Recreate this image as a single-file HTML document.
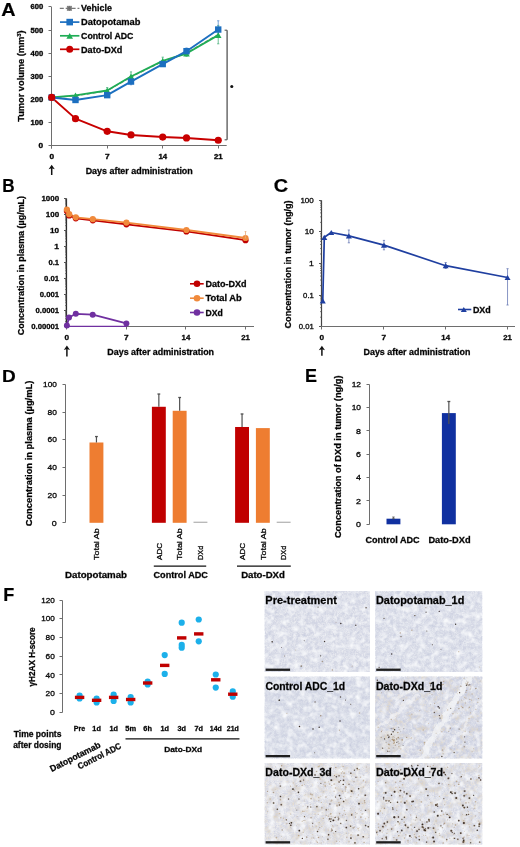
<!DOCTYPE html>
<html><head><meta charset="utf-8"><style>
html,body{margin:0;padding:0;background:#fff;}
body{width:520px;height:847px;overflow:hidden;}
svg{display:block;filter:blur(0.3px);}
svg text{font-family:'Liberation Sans', Arial, sans-serif;}
</style></head><body>
<svg width="520" height="847" viewBox="0 0 520 847" font-weight="bold">
<defs>
<filter id="wobble" x="-10%" y="-10%" width="120%" height="120%"><feTurbulence type="fractalNoise" baseFrequency="0.12" numOctaves="2" seed="4" result="t"/><feDisplacementMap in="SourceGraphic" in2="t" scale="7" xChannelSelector="R" yChannelSelector="G" result="d"/><feGaussianBlur in="d" stdDeviation="0.6"/></filter>
<filter id="soft" x="-5%" y="-5%" width="110%" height="110%"><feGaussianBlur stdDeviation="0.35"/></filter>
<clipPath id="hc0"><rect x="264.6" y="591.1" width="105.40" height="80.90"/></clipPath>
<filter id="hd0" x="0" y="0" width="1" height="1" color-interpolation-filters="sRGB">
<feTurbulence type="fractalNoise" baseFrequency="0.32" numOctaves="3" seed="5"/>
<feColorMatrix type="matrix" values="0 0 0 0 0.78 0 0 0 0 0.8 0 0 0 0 0.87 2.0 0 0 0 -0.75"/></filter>
<filter id="hf0" x="0" y="0" width="1" height="1" color-interpolation-filters="sRGB">
<feTurbulence type="fractalNoise" baseFrequency="0.9" numOctaves="2" seed="13"/>
<feColorMatrix type="matrix" values="0 0 0 0 0.82 0 0 0 0 0.83 0 0 0 0 0.89 0 0 2.0 0 -0.7"/></filter>
<filter id="hw0" x="0" y="0" width="1" height="1" color-interpolation-filters="sRGB">
<feTurbulence type="fractalNoise" baseFrequency="0.16" numOctaves="2" seed="9"/>
<feColorMatrix type="matrix" values="0 0 0 0 0.97 0 0 0 0 0.975 0 0 0 0 0.985 0 2.4 0 0 -1.05"/></filter>
<filter id="hb0" x="0" y="0" width="1" height="1" color-interpolation-filters="sRGB">
<feTurbulence type="fractalNoise" baseFrequency="0.15" numOctaves="2" seed="17"/>
<feColorMatrix type="matrix" values="0 0 0 0 0.86 0 0 0 0 0.8 0 0 0 0 0.7 0 2.0 0 0 -0.85"/></filter>
<clipPath id="hc1"><rect x="375.2" y="591.1" width="107.10" height="80.90"/></clipPath>
<filter id="hd1" x="0" y="0" width="1" height="1" color-interpolation-filters="sRGB">
<feTurbulence type="fractalNoise" baseFrequency="0.32" numOctaves="3" seed="15"/>
<feColorMatrix type="matrix" values="0 0 0 0 0.78 0 0 0 0 0.8 0 0 0 0 0.87 2.0 0 0 0 -0.75"/></filter>
<filter id="hf1" x="0" y="0" width="1" height="1" color-interpolation-filters="sRGB">
<feTurbulence type="fractalNoise" baseFrequency="0.9" numOctaves="2" seed="23"/>
<feColorMatrix type="matrix" values="0 0 0 0 0.82 0 0 0 0 0.83 0 0 0 0 0.89 0 0 2.0 0 -0.7"/></filter>
<filter id="hw1" x="0" y="0" width="1" height="1" color-interpolation-filters="sRGB">
<feTurbulence type="fractalNoise" baseFrequency="0.16" numOctaves="2" seed="19"/>
<feColorMatrix type="matrix" values="0 0 0 0 0.97 0 0 0 0 0.975 0 0 0 0 0.985 0 2.4 0 0 -1.05"/></filter>
<filter id="hb1" x="0" y="0" width="1" height="1" color-interpolation-filters="sRGB">
<feTurbulence type="fractalNoise" baseFrequency="0.15" numOctaves="2" seed="27"/>
<feColorMatrix type="matrix" values="0 0 0 0 0.86 0 0 0 0 0.8 0 0 0 0 0.7 0 2.0 0 0 -0.85"/></filter>
<clipPath id="hc2"><rect x="264.6" y="676.6" width="105.40" height="81.80"/></clipPath>
<filter id="hd2" x="0" y="0" width="1" height="1" color-interpolation-filters="sRGB">
<feTurbulence type="fractalNoise" baseFrequency="0.32" numOctaves="3" seed="25"/>
<feColorMatrix type="matrix" values="0 0 0 0 0.78 0 0 0 0 0.8 0 0 0 0 0.87 2.0 0 0 0 -0.75"/></filter>
<filter id="hf2" x="0" y="0" width="1" height="1" color-interpolation-filters="sRGB">
<feTurbulence type="fractalNoise" baseFrequency="0.9" numOctaves="2" seed="33"/>
<feColorMatrix type="matrix" values="0 0 0 0 0.82 0 0 0 0 0.83 0 0 0 0 0.89 0 0 2.0 0 -0.7"/></filter>
<filter id="hw2" x="0" y="0" width="1" height="1" color-interpolation-filters="sRGB">
<feTurbulence type="fractalNoise" baseFrequency="0.16" numOctaves="2" seed="29"/>
<feColorMatrix type="matrix" values="0 0 0 0 0.97 0 0 0 0 0.975 0 0 0 0 0.985 0 2.4 0 0 -1.05"/></filter>
<filter id="hb2" x="0" y="0" width="1" height="1" color-interpolation-filters="sRGB">
<feTurbulence type="fractalNoise" baseFrequency="0.15" numOctaves="2" seed="37"/>
<feColorMatrix type="matrix" values="0 0 0 0 0.86 0 0 0 0 0.8 0 0 0 0 0.7 0 2.0 0 0 -0.85"/></filter>
<clipPath id="hc3"><rect x="375.2" y="676.6" width="107.10" height="81.80"/></clipPath>
<filter id="hd3" x="0" y="0" width="1" height="1" color-interpolation-filters="sRGB">
<feTurbulence type="fractalNoise" baseFrequency="0.32" numOctaves="3" seed="35"/>
<feColorMatrix type="matrix" values="0 0 0 0 0.78 0 0 0 0 0.8 0 0 0 0 0.87 2.6 0 0 0 -0.95"/></filter>
<filter id="hf3" x="0" y="0" width="1" height="1" color-interpolation-filters="sRGB">
<feTurbulence type="fractalNoise" baseFrequency="0.9" numOctaves="2" seed="43"/>
<feColorMatrix type="matrix" values="0 0 0 0 0.82 0 0 0 0 0.83 0 0 0 0 0.89 0 0 2.0 0 -0.7"/></filter>
<filter id="hw3" x="0" y="0" width="1" height="1" color-interpolation-filters="sRGB">
<feTurbulence type="fractalNoise" baseFrequency="0.16" numOctaves="2" seed="39"/>
<feColorMatrix type="matrix" values="0 0 0 0 0.97 0 0 0 0 0.975 0 0 0 0 0.985 0 2.0 0 0 -0.95"/></filter>
<filter id="hb3" x="0" y="0" width="1" height="1" color-interpolation-filters="sRGB">
<feTurbulence type="fractalNoise" baseFrequency="0.15" numOctaves="2" seed="47"/>
<feColorMatrix type="matrix" values="0 0 0 0 0.86 0 0 0 0 0.8 0 0 0 0 0.7 0 2.0 0 0 -0.85"/></filter>
<clipPath id="hc4"><rect x="264.6" y="763.0" width="105.40" height="81.60"/></clipPath>
<filter id="hd4" x="0" y="0" width="1" height="1" color-interpolation-filters="sRGB">
<feTurbulence type="fractalNoise" baseFrequency="0.32" numOctaves="3" seed="45"/>
<feColorMatrix type="matrix" values="0 0 0 0 0.78 0 0 0 0 0.8 0 0 0 0 0.87 1.3 0 0 0 -0.55"/></filter>
<filter id="hf4" x="0" y="0" width="1" height="1" color-interpolation-filters="sRGB">
<feTurbulence type="fractalNoise" baseFrequency="0.9" numOctaves="2" seed="53"/>
<feColorMatrix type="matrix" values="0 0 0 0 0.82 0 0 0 0 0.83 0 0 0 0 0.89 0 0 2.0 0 -0.7"/></filter>
<filter id="hw4" x="0" y="0" width="1" height="1" color-interpolation-filters="sRGB">
<feTurbulence type="fractalNoise" baseFrequency="0.16" numOctaves="2" seed="49"/>
<feColorMatrix type="matrix" values="0 0 0 0 0.97 0 0 0 0 0.975 0 0 0 0 0.985 0 2.4 0 0 -1.05"/></filter>
<filter id="hb4" x="0" y="0" width="1" height="1" color-interpolation-filters="sRGB">
<feTurbulence type="fractalNoise" baseFrequency="0.15" numOctaves="2" seed="57"/>
<feColorMatrix type="matrix" values="0 0 0 0 0.86 0 0 0 0 0.8 0 0 0 0 0.7 0 2.0 0 0 -0.85"/></filter>
<clipPath id="hc5"><rect x="375.2" y="763.0" width="107.10" height="81.60"/></clipPath>
<filter id="hd5" x="0" y="0" width="1" height="1" color-interpolation-filters="sRGB">
<feTurbulence type="fractalNoise" baseFrequency="0.32" numOctaves="3" seed="55"/>
<feColorMatrix type="matrix" values="0 0 0 0 0.78 0 0 0 0 0.8 0 0 0 0 0.87 1.6 0 0 0 -0.65"/></filter>
<filter id="hf5" x="0" y="0" width="1" height="1" color-interpolation-filters="sRGB">
<feTurbulence type="fractalNoise" baseFrequency="0.9" numOctaves="2" seed="63"/>
<feColorMatrix type="matrix" values="0 0 0 0 0.82 0 0 0 0 0.83 0 0 0 0 0.89 0 0 2.0 0 -0.7"/></filter>
<filter id="hw5" x="0" y="0" width="1" height="1" color-interpolation-filters="sRGB">
<feTurbulence type="fractalNoise" baseFrequency="0.16" numOctaves="2" seed="59"/>
<feColorMatrix type="matrix" values="0 0 0 0 0.97 0 0 0 0 0.975 0 0 0 0 0.985 0 2.4 0 0 -1.05"/></filter>
<filter id="hb5" x="0" y="0" width="1" height="1" color-interpolation-filters="sRGB">
<feTurbulence type="fractalNoise" baseFrequency="0.15" numOctaves="2" seed="67"/>
<feColorMatrix type="matrix" values="0 0 0 0 0.86 0 0 0 0 0.8 0 0 0 0 0.7 0 2.0 0 0 -0.85"/></filter>
</defs>
<rect width="520" height="847" fill="#fff"/>
<text x="1.24" y="15.60" font-size="19.00" stroke="#111" stroke-width="0.2" textLength="14.33" lengthAdjust="spacingAndGlyphs">A</text>
<line x1="51.50" y1="6.98" x2="51.50" y2="148.50" stroke="#6e6e6e" stroke-width="1"/>
<line x1="48.50" y1="145.50" x2="51.50" y2="145.50" stroke="#6e6e6e" stroke-width="1"/>
<text x="43.24" y="147.60" font-size="8.00" text-anchor="end" stroke="#111" stroke-width="0.4" textLength="4.61" lengthAdjust="spacingAndGlyphs">0</text>
<line x1="48.50" y1="122.50" x2="51.50" y2="122.50" stroke="#6e6e6e" stroke-width="1"/>
<text x="43.24" y="124.58" font-size="8.00" text-anchor="end" stroke="#111" stroke-width="0.4" textLength="12.71" lengthAdjust="spacingAndGlyphs">100</text>
<line x1="48.50" y1="99.50" x2="51.50" y2="99.50" stroke="#6e6e6e" stroke-width="1"/>
<text x="43.24" y="101.56" font-size="8.00" text-anchor="end" stroke="#111" stroke-width="0.4" textLength="12.71" lengthAdjust="spacingAndGlyphs">200</text>
<line x1="48.50" y1="76.50" x2="51.50" y2="76.50" stroke="#6e6e6e" stroke-width="1"/>
<text x="43.24" y="78.54" font-size="8.00" text-anchor="end" stroke="#111" stroke-width="0.4" textLength="12.71" lengthAdjust="spacingAndGlyphs">300</text>
<line x1="48.50" y1="53.50" x2="51.50" y2="53.50" stroke="#6e6e6e" stroke-width="1"/>
<text x="43.24" y="55.52" font-size="8.00" text-anchor="end" stroke="#111" stroke-width="0.4" textLength="12.71" lengthAdjust="spacingAndGlyphs">400</text>
<line x1="48.50" y1="30.50" x2="51.50" y2="30.50" stroke="#6e6e6e" stroke-width="1"/>
<text x="43.24" y="32.50" font-size="8.00" text-anchor="end" stroke="#111" stroke-width="0.4" textLength="12.71" lengthAdjust="spacingAndGlyphs">500</text>
<line x1="48.50" y1="6.50" x2="51.50" y2="6.50" stroke="#6e6e6e" stroke-width="1"/>
<text x="43.24" y="9.48" font-size="8.00" text-anchor="end" stroke="#111" stroke-width="0.4" textLength="12.71" lengthAdjust="spacingAndGlyphs">600</text>
<line x1="51.50" y1="145.50" x2="226.70" y2="145.50" stroke="#6e6e6e" stroke-width="1"/>
<line x1="51.50" y1="145.50" x2="51.50" y2="148.50" stroke="#6e6e6e" stroke-width="1"/>
<text x="51.70" y="159.10" font-size="8.00" text-anchor="middle" stroke="#111" stroke-width="0.4" textLength="4.61" lengthAdjust="spacingAndGlyphs">0</text>
<line x1="107.50" y1="145.50" x2="107.50" y2="148.50" stroke="#6e6e6e" stroke-width="1"/>
<text x="107.21" y="159.10" font-size="8.00" text-anchor="middle" stroke="#111" stroke-width="0.4" textLength="4.61" lengthAdjust="spacingAndGlyphs">7</text>
<line x1="162.50" y1="145.50" x2="162.50" y2="148.50" stroke="#6e6e6e" stroke-width="1"/>
<text x="162.72" y="159.10" font-size="8.00" text-anchor="middle" stroke="#111" stroke-width="0.4" textLength="8.66" lengthAdjust="spacingAndGlyphs">14</text>
<line x1="218.50" y1="145.50" x2="218.50" y2="148.50" stroke="#6e6e6e" stroke-width="1"/>
<text x="218.23" y="159.10" font-size="8.00" text-anchor="middle" stroke="#111" stroke-width="0.4" textLength="8.66" lengthAdjust="spacingAndGlyphs">21</text>
<line x1="51.70" y1="166.80" x2="51.70" y2="175.00" stroke="#111" stroke-width="1.5"/>
<polygon points="48.60,169.20 51.70,168.20 54.80,169.20 51.70,164.80" fill="#111"/>
<text x="85.66" y="173.60" font-size="8.60" stroke="#111" stroke-width="0.28" textLength="107.10" lengthAdjust="spacingAndGlyphs">Days after administration</text>
<text x="24.00" y="121.77" font-size="9.30" stroke="#111" stroke-width="0.28" textLength="91.45" lengthAdjust="spacingAndGlyphs" transform="rotate(-90 24.00 121.77)">Tumor volume (mm<tspan font-size="6" dy="-3.2">3</tspan><tspan dy="3.2">)</tspan></text>
<line x1="227.10" y1="30.20" x2="227.10" y2="139.80" stroke="#555" stroke-width="1.3"/>
<line x1="224.60" y1="30.20" x2="227.10" y2="30.20" stroke="#555" stroke-width="1.1"/>
<line x1="224.60" y1="139.80" x2="227.10" y2="139.80" stroke="#555" stroke-width="1.1"/>
<circle cx="231.80" cy="86.50" r="1.55" fill="#111"/>
<line x1="107.21" y1="87.55" x2="107.21" y2="92.61" stroke="#48b07a" stroke-width="0.8"/>
<line x1="106.11" y1="87.55" x2="108.31" y2="87.55" stroke="#48b07a" stroke-width="0.8"/>
<line x1="106.11" y1="92.61" x2="108.31" y2="92.61" stroke="#48b07a" stroke-width="0.8"/>
<line x1="131.00" y1="71.90" x2="131.00" y2="80.18" stroke="#48b07a" stroke-width="0.8"/>
<line x1="129.90" y1="71.90" x2="132.10" y2="71.90" stroke="#48b07a" stroke-width="0.8"/>
<line x1="129.90" y1="80.18" x2="132.10" y2="80.18" stroke="#48b07a" stroke-width="0.8"/>
<line x1="162.72" y1="57.16" x2="162.72" y2="64.07" stroke="#48b07a" stroke-width="0.8"/>
<line x1="161.62" y1="57.16" x2="163.82" y2="57.16" stroke="#48b07a" stroke-width="0.8"/>
<line x1="161.62" y1="64.07" x2="163.82" y2="64.07" stroke="#48b07a" stroke-width="0.8"/>
<line x1="186.51" y1="50.26" x2="186.51" y2="56.24" stroke="#48b07a" stroke-width="0.8"/>
<line x1="185.41" y1="50.26" x2="187.61" y2="50.26" stroke="#48b07a" stroke-width="0.8"/>
<line x1="185.41" y1="56.24" x2="187.61" y2="56.24" stroke="#48b07a" stroke-width="0.8"/>
<line x1="218.23" y1="25.40" x2="218.23" y2="43.81" stroke="#48b07a" stroke-width="0.8"/>
<line x1="217.13" y1="25.40" x2="219.33" y2="25.40" stroke="#48b07a" stroke-width="0.8"/>
<line x1="217.13" y1="43.81" x2="219.33" y2="43.81" stroke="#48b07a" stroke-width="0.8"/>
<line x1="131.00" y1="77.88" x2="131.00" y2="84.79" stroke="#5a8fcf" stroke-width="0.8"/>
<line x1="129.90" y1="77.88" x2="132.10" y2="77.88" stroke="#5a8fcf" stroke-width="0.8"/>
<line x1="129.90" y1="84.79" x2="132.10" y2="84.79" stroke="#5a8fcf" stroke-width="0.8"/>
<line x1="162.72" y1="61.31" x2="162.72" y2="66.37" stroke="#5a8fcf" stroke-width="0.8"/>
<line x1="161.62" y1="61.31" x2="163.82" y2="61.31" stroke="#5a8fcf" stroke-width="0.8"/>
<line x1="161.62" y1="66.37" x2="163.82" y2="66.37" stroke="#5a8fcf" stroke-width="0.8"/>
<line x1="186.51" y1="47.96" x2="186.51" y2="53.94" stroke="#5a8fcf" stroke-width="0.8"/>
<line x1="185.41" y1="47.96" x2="187.61" y2="47.96" stroke="#5a8fcf" stroke-width="0.8"/>
<line x1="185.41" y1="53.94" x2="187.61" y2="53.94" stroke="#5a8fcf" stroke-width="0.8"/>
<line x1="218.23" y1="20.79" x2="218.23" y2="37.37" stroke="#5a8fcf" stroke-width="0.8"/>
<line x1="217.13" y1="20.79" x2="219.33" y2="20.79" stroke="#5a8fcf" stroke-width="0.8"/>
<line x1="217.13" y1="37.37" x2="219.33" y2="37.37" stroke="#5a8fcf" stroke-width="0.8"/>
<polyline points="51.70,97.45 75.49,95.84 107.21,90.77 131.00,76.96 162.72,61.31 186.51,53.02 218.23,34.60" fill="none" stroke="#8a8a8a" stroke-width="1.3" stroke-linejoin="round" stroke-dasharray="4 1.9"/>
<polyline points="51.70,97.45 75.49,95.38 107.21,90.54 131.00,76.50 162.72,60.85 186.51,53.48 218.23,35.06" fill="none" stroke="#1fad55" stroke-width="1.9" stroke-linejoin="round"/>
<polyline points="51.70,97.45 75.49,99.98 107.21,95.15 131.00,81.56 162.72,64.07 186.51,51.18 218.23,29.54" fill="none" stroke="#1c6fc0" stroke-width="1.9" stroke-linejoin="round"/>
<polyline points="51.70,97.45 75.49,118.63 107.21,131.29 131.00,134.97 162.72,137.04 186.51,137.96 218.23,140.27" fill="none" stroke="#c80000" stroke-width="1.9" stroke-linejoin="round"/>
<polygon points="48.40,100.35 55.00,100.35 51.70,94.55" fill="#1fad55"/>
<polygon points="72.19,98.28 78.79,98.28 75.49,92.48" fill="#1fad55"/>
<polygon points="103.91,93.44 110.51,93.44 107.21,87.64" fill="#1fad55"/>
<polygon points="127.70,79.40 134.30,79.40 131.00,73.60" fill="#1fad55"/>
<polygon points="159.42,63.75 166.02,63.75 162.72,57.95" fill="#1fad55"/>
<polygon points="183.21,56.38 189.81,56.38 186.51,50.58" fill="#1fad55"/>
<polygon points="214.93,37.96 221.53,37.96 218.23,32.16" fill="#1fad55"/>
<rect x="48.50" y="94.25" width="6.40" height="6.40" fill="#1c6fc0"/>
<rect x="72.29" y="96.78" width="6.40" height="6.40" fill="#1c6fc0"/>
<rect x="104.01" y="91.95" width="6.40" height="6.40" fill="#1c6fc0"/>
<rect x="127.80" y="78.36" width="6.40" height="6.40" fill="#1c6fc0"/>
<rect x="159.52" y="60.87" width="6.40" height="6.40" fill="#1c6fc0"/>
<rect x="183.31" y="47.98" width="6.40" height="6.40" fill="#1c6fc0"/>
<rect x="215.03" y="26.34" width="6.40" height="6.40" fill="#1c6fc0"/>
<circle cx="51.70" cy="97.45" r="3.60" fill="#c80000"/>
<circle cx="75.49" cy="118.63" r="3.60" fill="#c80000"/>
<circle cx="107.21" cy="131.29" r="3.60" fill="#c80000"/>
<circle cx="131.00" cy="134.97" r="3.60" fill="#c80000"/>
<circle cx="162.72" cy="137.04" r="3.60" fill="#c80000"/>
<circle cx="186.51" cy="137.96" r="3.60" fill="#c80000"/>
<circle cx="218.23" cy="140.27" r="3.60" fill="#c80000"/>
<line x1="59.80" y1="8.35" x2="79.40" y2="8.35" stroke="#7a7a7a" stroke-width="1.3" stroke-dasharray="4 1.9"/>
<rect x="66.90" y="5.85" width="5.00" height="5.00" fill="#8c8c8c"/>
<line x1="67.00" y1="8.35" x2="71.80" y2="8.35" stroke="#6a6a6a" stroke-width="0.8"/>
<line x1="69.40" y1="5.95" x2="69.40" y2="10.75" stroke="#6a6a6a" stroke-width="0.8"/>
<line x1="67.60" y1="6.55" x2="71.20" y2="10.15" stroke="#6a6a6a" stroke-width="0.8"/>
<line x1="67.60" y1="10.15" x2="71.20" y2="6.55" stroke="#6a6a6a" stroke-width="0.8"/>
<line x1="60.00" y1="22.10" x2="79.40" y2="22.10" stroke="#1c6fc0" stroke-width="1.7"/>
<rect x="66.40" y="18.80" width="6.60" height="6.60" fill="#1c6fc0"/>
<line x1="60.00" y1="35.80" x2="79.40" y2="35.80" stroke="#1fad55" stroke-width="1.7"/>
<polygon points="66.40,38.70 73.00,38.70 69.70,32.90" fill="#1fad55"/>
<line x1="60.00" y1="49.30" x2="79.40" y2="49.30" stroke="#c80000" stroke-width="1.7"/>
<circle cx="69.70" cy="49.30" r="3.50" fill="#c80000"/>
<text x="81.04" y="11.40" font-size="9.00" stroke="#111" stroke-width="0.28" textLength="30.83" lengthAdjust="spacingAndGlyphs">Vehicle</text>
<text x="81.04" y="25.30" font-size="9.00" stroke="#111" stroke-width="0.28" textLength="59.43" lengthAdjust="spacingAndGlyphs">Datopotamab</text>
<text x="81.04" y="39.00" font-size="9.00" stroke="#111" stroke-width="0.28" textLength="52.43" lengthAdjust="spacingAndGlyphs">Control ADC</text>
<text x="81.04" y="52.50" font-size="9.00" stroke="#111" stroke-width="0.28" textLength="41.33" lengthAdjust="spacingAndGlyphs">Dato-DXd</text>
<text x="2.28" y="191.80" font-size="18.00" stroke="#111" stroke-width="0.2" textLength="12.36" lengthAdjust="spacingAndGlyphs">B</text>
<line x1="66.40" y1="198.50" x2="66.40" y2="326.50" stroke="#2a2a2a" stroke-width="1.4"/>
<line x1="64.00" y1="326.50" x2="66.50" y2="326.50" stroke="#555" stroke-width="1"/>
<line x1="65.00" y1="321.53" x2="66.50" y2="321.53" stroke="#555" stroke-width="0.7"/>
<line x1="65.00" y1="318.72" x2="66.50" y2="318.72" stroke="#555" stroke-width="0.7"/>
<line x1="65.00" y1="316.72" x2="66.50" y2="316.72" stroke="#555" stroke-width="0.7"/>
<line x1="65.00" y1="315.17" x2="66.50" y2="315.17" stroke="#555" stroke-width="0.7"/>
<line x1="65.00" y1="313.91" x2="66.50" y2="313.91" stroke="#555" stroke-width="0.7"/>
<line x1="65.00" y1="312.84" x2="66.50" y2="312.84" stroke="#555" stroke-width="0.7"/>
<line x1="65.00" y1="311.91" x2="66.50" y2="311.91" stroke="#555" stroke-width="0.7"/>
<line x1="65.00" y1="311.09" x2="66.50" y2="311.09" stroke="#555" stroke-width="0.7"/>
<text x="59.11" y="328.64" font-size="6.90" text-anchor="end" stroke="#111" stroke-width="0.28" textLength="27.88" lengthAdjust="spacingAndGlyphs">0.00001</text>
<line x1="64.00" y1="310.50" x2="66.50" y2="310.50" stroke="#555" stroke-width="1"/>
<line x1="65.00" y1="305.55" x2="66.50" y2="305.55" stroke="#555" stroke-width="0.7"/>
<line x1="65.00" y1="302.74" x2="66.50" y2="302.74" stroke="#555" stroke-width="0.7"/>
<line x1="65.00" y1="300.74" x2="66.50" y2="300.74" stroke="#555" stroke-width="0.7"/>
<line x1="65.00" y1="299.19" x2="66.50" y2="299.19" stroke="#555" stroke-width="0.7"/>
<line x1="65.00" y1="297.93" x2="66.50" y2="297.93" stroke="#555" stroke-width="0.7"/>
<line x1="65.00" y1="296.86" x2="66.50" y2="296.86" stroke="#555" stroke-width="0.7"/>
<line x1="65.00" y1="295.93" x2="66.50" y2="295.93" stroke="#555" stroke-width="0.7"/>
<line x1="65.00" y1="295.11" x2="66.50" y2="295.11" stroke="#555" stroke-width="0.7"/>
<text x="59.11" y="312.66" font-size="6.90" text-anchor="end" stroke="#111" stroke-width="0.28" textLength="23.58" lengthAdjust="spacingAndGlyphs">0.0001</text>
<line x1="64.00" y1="294.50" x2="66.50" y2="294.50" stroke="#555" stroke-width="1"/>
<line x1="65.00" y1="289.57" x2="66.50" y2="289.57" stroke="#555" stroke-width="0.7"/>
<line x1="65.00" y1="286.76" x2="66.50" y2="286.76" stroke="#555" stroke-width="0.7"/>
<line x1="65.00" y1="284.76" x2="66.50" y2="284.76" stroke="#555" stroke-width="0.7"/>
<line x1="65.00" y1="283.21" x2="66.50" y2="283.21" stroke="#555" stroke-width="0.7"/>
<line x1="65.00" y1="281.95" x2="66.50" y2="281.95" stroke="#555" stroke-width="0.7"/>
<line x1="65.00" y1="280.88" x2="66.50" y2="280.88" stroke="#555" stroke-width="0.7"/>
<line x1="65.00" y1="279.95" x2="66.50" y2="279.95" stroke="#555" stroke-width="0.7"/>
<line x1="65.00" y1="279.13" x2="66.50" y2="279.13" stroke="#555" stroke-width="0.7"/>
<text x="59.11" y="296.68" font-size="6.90" text-anchor="end" stroke="#111" stroke-width="0.28" textLength="19.28" lengthAdjust="spacingAndGlyphs">0.001</text>
<line x1="64.00" y1="278.50" x2="66.50" y2="278.50" stroke="#555" stroke-width="1"/>
<line x1="65.00" y1="273.59" x2="66.50" y2="273.59" stroke="#555" stroke-width="0.7"/>
<line x1="65.00" y1="270.78" x2="66.50" y2="270.78" stroke="#555" stroke-width="0.7"/>
<line x1="65.00" y1="268.78" x2="66.50" y2="268.78" stroke="#555" stroke-width="0.7"/>
<line x1="65.00" y1="267.23" x2="66.50" y2="267.23" stroke="#555" stroke-width="0.7"/>
<line x1="65.00" y1="265.97" x2="66.50" y2="265.97" stroke="#555" stroke-width="0.7"/>
<line x1="65.00" y1="264.90" x2="66.50" y2="264.90" stroke="#555" stroke-width="0.7"/>
<line x1="65.00" y1="263.97" x2="66.50" y2="263.97" stroke="#555" stroke-width="0.7"/>
<line x1="65.00" y1="263.15" x2="66.50" y2="263.15" stroke="#555" stroke-width="0.7"/>
<text x="59.11" y="280.70" font-size="6.90" text-anchor="end" stroke="#111" stroke-width="0.28" textLength="14.98" lengthAdjust="spacingAndGlyphs">0.01</text>
<line x1="64.00" y1="262.50" x2="66.50" y2="262.50" stroke="#555" stroke-width="1"/>
<line x1="65.00" y1="257.61" x2="66.50" y2="257.61" stroke="#555" stroke-width="0.7"/>
<line x1="65.00" y1="254.80" x2="66.50" y2="254.80" stroke="#555" stroke-width="0.7"/>
<line x1="65.00" y1="252.80" x2="66.50" y2="252.80" stroke="#555" stroke-width="0.7"/>
<line x1="65.00" y1="251.25" x2="66.50" y2="251.25" stroke="#555" stroke-width="0.7"/>
<line x1="65.00" y1="249.99" x2="66.50" y2="249.99" stroke="#555" stroke-width="0.7"/>
<line x1="65.00" y1="248.92" x2="66.50" y2="248.92" stroke="#555" stroke-width="0.7"/>
<line x1="65.00" y1="247.99" x2="66.50" y2="247.99" stroke="#555" stroke-width="0.7"/>
<line x1="65.00" y1="247.17" x2="66.50" y2="247.17" stroke="#555" stroke-width="0.7"/>
<text x="59.11" y="264.72" font-size="6.90" text-anchor="end" stroke="#111" stroke-width="0.28" textLength="10.68" lengthAdjust="spacingAndGlyphs">0.1</text>
<line x1="64.00" y1="246.50" x2="66.50" y2="246.50" stroke="#555" stroke-width="1"/>
<line x1="65.00" y1="241.63" x2="66.50" y2="241.63" stroke="#555" stroke-width="0.7"/>
<line x1="65.00" y1="238.82" x2="66.50" y2="238.82" stroke="#555" stroke-width="0.7"/>
<line x1="65.00" y1="236.82" x2="66.50" y2="236.82" stroke="#555" stroke-width="0.7"/>
<line x1="65.00" y1="235.27" x2="66.50" y2="235.27" stroke="#555" stroke-width="0.7"/>
<line x1="65.00" y1="234.01" x2="66.50" y2="234.01" stroke="#555" stroke-width="0.7"/>
<line x1="65.00" y1="232.94" x2="66.50" y2="232.94" stroke="#555" stroke-width="0.7"/>
<line x1="65.00" y1="232.01" x2="66.50" y2="232.01" stroke="#555" stroke-width="0.7"/>
<line x1="65.00" y1="231.19" x2="66.50" y2="231.19" stroke="#555" stroke-width="0.7"/>
<text x="59.11" y="248.74" font-size="6.90" text-anchor="end" stroke="#111" stroke-width="0.28" textLength="4.78" lengthAdjust="spacingAndGlyphs">1</text>
<line x1="64.00" y1="230.50" x2="66.50" y2="230.50" stroke="#555" stroke-width="1"/>
<line x1="65.00" y1="225.65" x2="66.50" y2="225.65" stroke="#555" stroke-width="0.7"/>
<line x1="65.00" y1="222.84" x2="66.50" y2="222.84" stroke="#555" stroke-width="0.7"/>
<line x1="65.00" y1="220.84" x2="66.50" y2="220.84" stroke="#555" stroke-width="0.7"/>
<line x1="65.00" y1="219.29" x2="66.50" y2="219.29" stroke="#555" stroke-width="0.7"/>
<line x1="65.00" y1="218.03" x2="66.50" y2="218.03" stroke="#555" stroke-width="0.7"/>
<line x1="65.00" y1="216.96" x2="66.50" y2="216.96" stroke="#555" stroke-width="0.7"/>
<line x1="65.00" y1="216.03" x2="66.50" y2="216.03" stroke="#555" stroke-width="0.7"/>
<line x1="65.00" y1="215.21" x2="66.50" y2="215.21" stroke="#555" stroke-width="0.7"/>
<text x="59.11" y="232.76" font-size="6.90" text-anchor="end" stroke="#111" stroke-width="0.28" textLength="9.08" lengthAdjust="spacingAndGlyphs">10</text>
<line x1="64.00" y1="214.50" x2="66.50" y2="214.50" stroke="#555" stroke-width="1"/>
<line x1="65.00" y1="209.67" x2="66.50" y2="209.67" stroke="#555" stroke-width="0.7"/>
<line x1="65.00" y1="206.86" x2="66.50" y2="206.86" stroke="#555" stroke-width="0.7"/>
<line x1="65.00" y1="204.86" x2="66.50" y2="204.86" stroke="#555" stroke-width="0.7"/>
<line x1="65.00" y1="203.31" x2="66.50" y2="203.31" stroke="#555" stroke-width="0.7"/>
<line x1="65.00" y1="202.05" x2="66.50" y2="202.05" stroke="#555" stroke-width="0.7"/>
<line x1="65.00" y1="200.98" x2="66.50" y2="200.98" stroke="#555" stroke-width="0.7"/>
<line x1="65.00" y1="200.05" x2="66.50" y2="200.05" stroke="#555" stroke-width="0.7"/>
<line x1="65.00" y1="199.23" x2="66.50" y2="199.23" stroke="#555" stroke-width="0.7"/>
<text x="59.11" y="216.78" font-size="6.90" text-anchor="end" stroke="#111" stroke-width="0.28" textLength="13.38" lengthAdjust="spacingAndGlyphs">100</text>
<line x1="64.00" y1="198.50" x2="66.50" y2="198.50" stroke="#555" stroke-width="1"/>
<text x="59.11" y="200.80" font-size="6.90" text-anchor="end" stroke="#111" stroke-width="0.28" textLength="17.68" lengthAdjust="spacingAndGlyphs">1000</text>
<line x1="66.50" y1="326.50" x2="254.00" y2="326.50" stroke="#6e6e6e" stroke-width="1"/>
<line x1="66.50" y1="326.50" x2="66.50" y2="329.50" stroke="#6e6e6e" stroke-width="1"/>
<text x="66.90" y="340.00" font-size="7.20" text-anchor="middle" stroke="#111" stroke-width="0.28" textLength="4.60" lengthAdjust="spacingAndGlyphs">0</text>
<line x1="126.50" y1="326.50" x2="126.50" y2="329.50" stroke="#6e6e6e" stroke-width="1"/>
<text x="126.44" y="340.00" font-size="7.20" text-anchor="middle" stroke="#111" stroke-width="0.28" textLength="4.60" lengthAdjust="spacingAndGlyphs">7</text>
<line x1="185.50" y1="326.50" x2="185.50" y2="329.50" stroke="#6e6e6e" stroke-width="1"/>
<text x="185.97" y="340.00" font-size="7.20" text-anchor="middle" stroke="#111" stroke-width="0.28" textLength="8.70" lengthAdjust="spacingAndGlyphs">14</text>
<line x1="245.50" y1="326.50" x2="245.50" y2="329.50" stroke="#6e6e6e" stroke-width="1"/>
<text x="245.51" y="340.00" font-size="7.20" text-anchor="middle" stroke="#111" stroke-width="0.28" textLength="8.70" lengthAdjust="spacingAndGlyphs">21</text>
<line x1="66.90" y1="347.60" x2="66.90" y2="356.60" stroke="#111" stroke-width="1.5"/>
<polygon points="63.80,350.00 66.90,349.00 70.00,350.00 66.90,345.60" fill="#111"/>
<text x="107.36" y="355.00" font-size="8.40" stroke="#111" stroke-width="0.28" textLength="106.69" lengthAdjust="spacingAndGlyphs">Days after administration</text>
<text x="23.80" y="335.26" font-size="9.00" stroke="#111" stroke-width="0.28" textLength="139.33" lengthAdjust="spacingAndGlyphs" transform="rotate(-90 23.80 335.26)">Concentration in plasma (µg/mL)</text>
<polyline points="66.90,211.00 69.20,215.50 75.80,218.30 92.80,220.30 126.40,224.30 186.40,231.40 245.50,240.20" fill="none" stroke="#c00000" stroke-width="1.8" stroke-linejoin="round"/>
<polyline points="66.90,209.60 69.20,214.20 75.80,217.30 92.80,219.20 126.40,222.60 186.40,230.00 245.50,238.00" fill="none" stroke="#f08a3c" stroke-width="1.8" stroke-linejoin="round"/>
<circle cx="66.90" cy="211.00" r="3.10" fill="#c00000"/>
<circle cx="69.20" cy="215.50" r="3.10" fill="#c00000"/>
<circle cx="75.80" cy="218.30" r="3.10" fill="#c00000"/>
<circle cx="92.80" cy="220.30" r="3.10" fill="#c00000"/>
<circle cx="126.40" cy="224.30" r="3.10" fill="#c00000"/>
<circle cx="186.40" cy="231.40" r="3.10" fill="#c00000"/>
<circle cx="245.50" cy="240.20" r="3.10" fill="#c00000"/>
<circle cx="66.90" cy="209.60" r="3.10" fill="#f08a3c"/>
<circle cx="69.20" cy="214.20" r="3.10" fill="#f08a3c"/>
<circle cx="75.80" cy="217.30" r="3.10" fill="#f08a3c"/>
<circle cx="92.80" cy="219.20" r="3.10" fill="#f08a3c"/>
<circle cx="126.40" cy="222.60" r="3.10" fill="#f08a3c"/>
<circle cx="186.40" cy="230.00" r="3.10" fill="#f08a3c"/>
<circle cx="245.50" cy="238.00" r="3.10" fill="#f08a3c"/>
<line x1="245.50" y1="231.60" x2="245.50" y2="238.00" stroke="#e8a878" stroke-width="0.8"/>
<line x1="244.60" y1="231.60" x2="246.40" y2="231.60" stroke="#e8a878" stroke-width="0.8"/>
<line x1="244.60" y1="238.00" x2="246.40" y2="238.00" stroke="#e8a878" stroke-width="0.8"/>
<line x1="66.30" y1="326.30" x2="127.00" y2="326.30" stroke="#7030a0" stroke-width="1.3"/>
<polyline points="66.90,325.60 69.00,317.50 75.80,313.80 92.70,314.70 126.40,323.40" fill="none" stroke="#7030a0" stroke-width="1.8" stroke-linejoin="round"/>
<circle cx="66.90" cy="325.60" r="3.00" fill="#7030a0"/>
<circle cx="69.00" cy="317.50" r="3.00" fill="#7030a0"/>
<circle cx="75.80" cy="313.80" r="3.00" fill="#7030a0"/>
<circle cx="92.70" cy="314.70" r="3.00" fill="#7030a0"/>
<circle cx="126.40" cy="323.40" r="3.00" fill="#7030a0"/>
<line x1="190.00" y1="283.80" x2="203.70" y2="283.80" stroke="#c00000" stroke-width="1.6"/>
<circle cx="197.00" cy="283.80" r="3.30" fill="#c00000"/>
<text x="205.45" y="286.90" font-size="8.80" stroke="#111" stroke-width="0.28" textLength="41.12" lengthAdjust="spacingAndGlyphs">Dato-DXd</text>
<line x1="190.00" y1="298.20" x2="203.70" y2="298.20" stroke="#f08a3c" stroke-width="1.6"/>
<circle cx="197.00" cy="298.20" r="3.30" fill="#f08a3c"/>
<text x="205.45" y="301.30" font-size="8.80" stroke="#111" stroke-width="0.28" textLength="36.32" lengthAdjust="spacingAndGlyphs">Total Ab</text>
<line x1="190.00" y1="312.50" x2="203.70" y2="312.50" stroke="#7030a0" stroke-width="1.6"/>
<circle cx="197.00" cy="312.50" r="3.30" fill="#7030a0"/>
<text x="205.45" y="315.60" font-size="8.80" stroke="#111" stroke-width="0.28" textLength="17.32" lengthAdjust="spacingAndGlyphs">DXd</text>
<text x="273.88" y="191.80" font-size="18.00" stroke="#111" stroke-width="0.2" textLength="14.36" lengthAdjust="spacingAndGlyphs">C</text>
<line x1="321.50" y1="200.30" x2="321.50" y2="326.50" stroke="#444" stroke-width="1.2"/>
<line x1="319.00" y1="326.50" x2="321.50" y2="326.50" stroke="#555" stroke-width="1"/>
<line x1="320.00" y1="317.19" x2="321.50" y2="317.19" stroke="#555" stroke-width="0.7"/>
<line x1="320.00" y1="311.62" x2="321.50" y2="311.62" stroke="#555" stroke-width="0.7"/>
<line x1="320.00" y1="307.67" x2="321.50" y2="307.67" stroke="#555" stroke-width="0.7"/>
<line x1="320.00" y1="304.61" x2="321.50" y2="304.61" stroke="#555" stroke-width="0.7"/>
<line x1="320.00" y1="302.11" x2="321.50" y2="302.11" stroke="#555" stroke-width="0.7"/>
<line x1="320.00" y1="299.99" x2="321.50" y2="299.99" stroke="#555" stroke-width="0.7"/>
<line x1="320.00" y1="298.16" x2="321.50" y2="298.16" stroke="#555" stroke-width="0.7"/>
<line x1="320.00" y1="296.55" x2="321.50" y2="296.55" stroke="#555" stroke-width="0.7"/>
<text x="313.82" y="329.20" font-size="7.40" text-anchor="end" font-weight="normal" stroke="#111" stroke-width="0.3" textLength="15.02" lengthAdjust="spacingAndGlyphs">0.01</text>
<line x1="319.00" y1="295.50" x2="321.50" y2="295.50" stroke="#555" stroke-width="1"/>
<line x1="320.00" y1="285.59" x2="321.50" y2="285.59" stroke="#555" stroke-width="0.7"/>
<line x1="320.00" y1="280.02" x2="321.50" y2="280.02" stroke="#555" stroke-width="0.7"/>
<line x1="320.00" y1="276.07" x2="321.50" y2="276.07" stroke="#555" stroke-width="0.7"/>
<line x1="320.00" y1="273.01" x2="321.50" y2="273.01" stroke="#555" stroke-width="0.7"/>
<line x1="320.00" y1="270.51" x2="321.50" y2="270.51" stroke="#555" stroke-width="0.7"/>
<line x1="320.00" y1="268.39" x2="321.50" y2="268.39" stroke="#555" stroke-width="0.7"/>
<line x1="320.00" y1="266.56" x2="321.50" y2="266.56" stroke="#555" stroke-width="0.7"/>
<line x1="320.00" y1="264.95" x2="321.50" y2="264.95" stroke="#555" stroke-width="0.7"/>
<text x="313.82" y="297.60" font-size="7.40" text-anchor="end" font-weight="normal" stroke="#111" stroke-width="0.3" textLength="10.72" lengthAdjust="spacingAndGlyphs">0.1</text>
<line x1="319.00" y1="263.50" x2="321.50" y2="263.50" stroke="#555" stroke-width="1"/>
<line x1="320.00" y1="253.99" x2="321.50" y2="253.99" stroke="#555" stroke-width="0.7"/>
<line x1="320.00" y1="248.42" x2="321.50" y2="248.42" stroke="#555" stroke-width="0.7"/>
<line x1="320.00" y1="244.47" x2="321.50" y2="244.47" stroke="#555" stroke-width="0.7"/>
<line x1="320.00" y1="241.41" x2="321.50" y2="241.41" stroke="#555" stroke-width="0.7"/>
<line x1="320.00" y1="238.91" x2="321.50" y2="238.91" stroke="#555" stroke-width="0.7"/>
<line x1="320.00" y1="236.79" x2="321.50" y2="236.79" stroke="#555" stroke-width="0.7"/>
<line x1="320.00" y1="234.96" x2="321.50" y2="234.96" stroke="#555" stroke-width="0.7"/>
<line x1="320.00" y1="233.35" x2="321.50" y2="233.35" stroke="#555" stroke-width="0.7"/>
<text x="313.82" y="266.00" font-size="7.40" text-anchor="end" font-weight="normal" stroke="#111" stroke-width="0.3" textLength="4.82" lengthAdjust="spacingAndGlyphs">1</text>
<line x1="319.00" y1="231.50" x2="321.50" y2="231.50" stroke="#555" stroke-width="1"/>
<line x1="320.00" y1="222.39" x2="321.50" y2="222.39" stroke="#555" stroke-width="0.7"/>
<line x1="320.00" y1="216.82" x2="321.50" y2="216.82" stroke="#555" stroke-width="0.7"/>
<line x1="320.00" y1="212.87" x2="321.50" y2="212.87" stroke="#555" stroke-width="0.7"/>
<line x1="320.00" y1="209.81" x2="321.50" y2="209.81" stroke="#555" stroke-width="0.7"/>
<line x1="320.00" y1="207.31" x2="321.50" y2="207.31" stroke="#555" stroke-width="0.7"/>
<line x1="320.00" y1="205.19" x2="321.50" y2="205.19" stroke="#555" stroke-width="0.7"/>
<line x1="320.00" y1="203.36" x2="321.50" y2="203.36" stroke="#555" stroke-width="0.7"/>
<line x1="320.00" y1="201.75" x2="321.50" y2="201.75" stroke="#555" stroke-width="0.7"/>
<text x="313.82" y="234.40" font-size="7.40" text-anchor="end" font-weight="normal" stroke="#111" stroke-width="0.3" textLength="9.12" lengthAdjust="spacingAndGlyphs">10</text>
<line x1="319.00" y1="200.50" x2="321.50" y2="200.50" stroke="#555" stroke-width="1"/>
<text x="313.82" y="202.80" font-size="7.40" text-anchor="end" font-weight="normal" stroke="#111" stroke-width="0.3" textLength="13.42" lengthAdjust="spacingAndGlyphs">100</text>
<line x1="321.50" y1="326.50" x2="515.00" y2="326.50" stroke="#6e6e6e" stroke-width="1"/>
<line x1="321.50" y1="326.50" x2="321.50" y2="329.50" stroke="#6e6e6e" stroke-width="1"/>
<text x="321.90" y="340.10" font-size="7.20" text-anchor="middle" stroke="#111" stroke-width="0.28" textLength="4.60" lengthAdjust="spacingAndGlyphs">0</text>
<line x1="383.50" y1="326.50" x2="383.50" y2="329.50" stroke="#6e6e6e" stroke-width="1"/>
<text x="383.78" y="340.10" font-size="7.20" text-anchor="middle" stroke="#111" stroke-width="0.28" textLength="4.60" lengthAdjust="spacingAndGlyphs">7</text>
<line x1="445.50" y1="326.50" x2="445.50" y2="329.50" stroke="#6e6e6e" stroke-width="1"/>
<text x="445.66" y="340.10" font-size="7.20" text-anchor="middle" stroke="#111" stroke-width="0.28" textLength="8.70" lengthAdjust="spacingAndGlyphs">14</text>
<line x1="507.50" y1="326.50" x2="507.50" y2="329.50" stroke="#6e6e6e" stroke-width="1"/>
<text x="507.54" y="340.10" font-size="7.20" text-anchor="middle" stroke="#111" stroke-width="0.28" textLength="8.70" lengthAdjust="spacingAndGlyphs">21</text>
<line x1="321.90" y1="347.80" x2="321.90" y2="355.80" stroke="#111" stroke-width="1.5"/>
<polygon points="318.80,350.20 321.90,349.20 325.00,350.20 321.90,345.80" fill="#111"/>
<text x="363.56" y="355.40" font-size="8.40" stroke="#111" stroke-width="0.28" textLength="106.79" lengthAdjust="spacingAndGlyphs">Days after administration</text>
<text x="291.00" y="328.46" font-size="9.00" stroke="#111" stroke-width="0.28" textLength="128.03" lengthAdjust="spacingAndGlyphs" transform="rotate(-90 291.00 328.46)">Concentration in tumor (ng/g)</text>
<line x1="348.86" y1="230.00" x2="348.86" y2="242.80" stroke="#6a7bb5" stroke-width="0.8"/>
<line x1="347.76" y1="230.00" x2="349.96" y2="230.00" stroke="#6a7bb5" stroke-width="0.8"/>
<line x1="347.76" y1="242.80" x2="349.96" y2="242.80" stroke="#6a7bb5" stroke-width="0.8"/>
<line x1="383.96" y1="240.40" x2="383.96" y2="249.80" stroke="#6a7bb5" stroke-width="0.8"/>
<line x1="382.86" y1="240.40" x2="385.06" y2="240.40" stroke="#6a7bb5" stroke-width="0.8"/>
<line x1="382.86" y1="249.80" x2="385.06" y2="249.80" stroke="#6a7bb5" stroke-width="0.8"/>
<line x1="445.66" y1="262.50" x2="445.66" y2="268.50" stroke="#6a7bb5" stroke-width="0.8"/>
<line x1="444.56" y1="262.50" x2="446.76" y2="262.50" stroke="#6a7bb5" stroke-width="0.8"/>
<line x1="444.56" y1="268.50" x2="446.76" y2="268.50" stroke="#6a7bb5" stroke-width="0.8"/>
<line x1="507.54" y1="268.70" x2="507.54" y2="305.00" stroke="#6a7bb5" stroke-width="0.8"/>
<line x1="506.44" y1="268.70" x2="508.64" y2="268.70" stroke="#6a7bb5" stroke-width="0.8"/>
<line x1="506.44" y1="305.00" x2="508.64" y2="305.00" stroke="#6a7bb5" stroke-width="0.8"/>
<polyline points="322.78,300.80 324.29,237.30 331.27,232.50 348.86,235.90 383.96,245.10 445.66,265.70 507.54,277.50" fill="none" stroke="#1f3fa0" stroke-width="1.7" stroke-linejoin="round"/>
<polygon points="319.78,303.40 325.78,303.40 322.78,298.20" fill="#1f3fa0"/>
<polygon points="321.29,239.90 327.29,239.90 324.29,234.70" fill="#1f3fa0"/>
<polygon points="328.27,235.10 334.27,235.10 331.27,229.90" fill="#1f3fa0"/>
<polygon points="345.86,238.50 351.86,238.50 348.86,233.30" fill="#1f3fa0"/>
<polygon points="380.96,247.70 386.96,247.70 383.96,242.50" fill="#1f3fa0"/>
<polygon points="442.66,268.30 448.66,268.30 445.66,263.10" fill="#1f3fa0"/>
<polygon points="504.54,280.10 510.54,280.10 507.54,274.90" fill="#1f3fa0"/>
<line x1="458.00" y1="309.50" x2="471.30" y2="309.50" stroke="#1f3fa0" stroke-width="1.6"/>
<polygon points="460.80,312.10 466.80,312.10 463.80,306.90" fill="#1f3fa0"/>
<text x="472.95" y="312.60" font-size="8.80" stroke="#111" stroke-width="0.28" textLength="17.82" lengthAdjust="spacingAndGlyphs">DXd</text>
<text x="2.14" y="381.80" font-size="16.40" stroke="#111" stroke-width="0.2" textLength="13.75" lengthAdjust="spacingAndGlyphs">D</text>
<line x1="65.50" y1="384.50" x2="65.50" y2="522.50" stroke="#6e6e6e" stroke-width="1"/>
<line x1="62.50" y1="522.50" x2="65.50" y2="522.50" stroke="#6e6e6e" stroke-width="1"/>
<text x="56.83" y="525.50" font-size="7.80" text-anchor="end" font-weight="normal" stroke="#111" stroke-width="0.32" textLength="4.95" lengthAdjust="spacingAndGlyphs">0</text>
<line x1="62.50" y1="495.50" x2="65.50" y2="495.50" stroke="#6e6e6e" stroke-width="1"/>
<text x="56.83" y="497.81" font-size="7.80" text-anchor="end" font-weight="normal" stroke="#111" stroke-width="0.32" textLength="9.35" lengthAdjust="spacingAndGlyphs">20</text>
<line x1="62.50" y1="467.50" x2="65.50" y2="467.50" stroke="#6e6e6e" stroke-width="1"/>
<text x="56.83" y="470.12" font-size="7.80" text-anchor="end" font-weight="normal" stroke="#111" stroke-width="0.32" textLength="9.35" lengthAdjust="spacingAndGlyphs">40</text>
<line x1="62.50" y1="439.50" x2="65.50" y2="439.50" stroke="#6e6e6e" stroke-width="1"/>
<text x="56.83" y="442.43" font-size="7.80" text-anchor="end" font-weight="normal" stroke="#111" stroke-width="0.32" textLength="9.35" lengthAdjust="spacingAndGlyphs">60</text>
<line x1="62.50" y1="412.50" x2="65.50" y2="412.50" stroke="#6e6e6e" stroke-width="1"/>
<text x="56.83" y="414.74" font-size="7.80" text-anchor="end" font-weight="normal" stroke="#111" stroke-width="0.32" textLength="9.35" lengthAdjust="spacingAndGlyphs">80</text>
<line x1="62.50" y1="384.50" x2="65.50" y2="384.50" stroke="#6e6e6e" stroke-width="1"/>
<text x="56.83" y="387.05" font-size="7.80" text-anchor="end" font-weight="normal" stroke="#111" stroke-width="0.32" textLength="13.75" lengthAdjust="spacingAndGlyphs">100</text>
<text x="32.50" y="526.35" font-size="8.80" stroke="#111" stroke-width="0.28" textLength="145.72" lengthAdjust="spacingAndGlyphs" transform="rotate(-90 32.50 526.35)">Concentration in plasma (µg/mL)</text>
<rect x="89.50" y="442.50" width="13.90" height="80.30" fill="#ee7d31"/>
<line x1="96.45" y1="436.55" x2="96.45" y2="442.50" stroke="#505050" stroke-width="1.2"/>
<line x1="95.05" y1="436.55" x2="97.85" y2="436.55" stroke="#505050" stroke-width="1.3"/>
<rect x="151.90" y="406.78" width="13.90" height="116.02" fill="#c00000"/>
<line x1="158.85" y1="394.04" x2="158.85" y2="406.78" stroke="#505050" stroke-width="1.2"/>
<line x1="157.45" y1="394.04" x2="160.25" y2="394.04" stroke="#505050" stroke-width="1.3"/>
<rect x="172.70" y="410.79" width="13.90" height="112.01" fill="#ee7d31"/>
<line x1="179.65" y1="397.50" x2="179.65" y2="410.79" stroke="#505050" stroke-width="1.2"/>
<line x1="178.25" y1="397.50" x2="181.05" y2="397.50" stroke="#505050" stroke-width="1.3"/>
<rect x="235.10" y="426.99" width="13.90" height="95.81" fill="#c00000"/>
<line x1="242.05" y1="413.98" x2="242.05" y2="426.99" stroke="#505050" stroke-width="1.2"/>
<line x1="240.65" y1="413.98" x2="243.45" y2="413.98" stroke="#505050" stroke-width="1.3"/>
<rect x="255.90" y="428.10" width="13.90" height="94.70" fill="#ee7d31"/>
<rect x="193.50" y="521.70" width="13.90" height="1.10" fill="#a8a8a8"/>
<rect x="276.70" y="521.70" width="13.90" height="1.10" fill="#a8a8a8"/>
<text x="99.25" y="559.90" font-size="7.60" font-weight="normal" stroke="#111" stroke-width="0.3" textLength="31.53" lengthAdjust="spacingAndGlyphs" transform="rotate(-90 99.25 559.90)">Total Ab</text>
<text x="161.65" y="559.90" font-size="7.60" font-weight="normal" stroke="#111" stroke-width="0.3" textLength="17.13" lengthAdjust="spacingAndGlyphs" transform="rotate(-90 161.65 559.90)">ADC</text>
<text x="182.45" y="559.90" font-size="7.60" font-weight="normal" stroke="#111" stroke-width="0.3" textLength="31.53" lengthAdjust="spacingAndGlyphs" transform="rotate(-90 182.45 559.90)">Total Ab</text>
<text x="203.25" y="559.90" font-size="7.60" font-weight="normal" stroke="#111" stroke-width="0.3" textLength="14.13" lengthAdjust="spacingAndGlyphs" transform="rotate(-90 203.25 559.90)">DXd</text>
<text x="244.85" y="559.90" font-size="7.60" font-weight="normal" stroke="#111" stroke-width="0.3" textLength="17.13" lengthAdjust="spacingAndGlyphs" transform="rotate(-90 244.85 559.90)">ADC</text>
<text x="265.65" y="559.90" font-size="7.60" font-weight="normal" stroke="#111" stroke-width="0.3" textLength="31.53" lengthAdjust="spacingAndGlyphs" transform="rotate(-90 265.65 559.90)">Total Ab</text>
<text x="286.45" y="559.90" font-size="7.60" font-weight="normal" stroke="#111" stroke-width="0.3" textLength="14.13" lengthAdjust="spacingAndGlyphs" transform="rotate(-90 286.45 559.90)">DXd</text>
<line x1="153.80" y1="566.20" x2="206.20" y2="566.20" stroke="#111" stroke-width="1.3"/>
<line x1="237.00" y1="566.20" x2="290.80" y2="566.20" stroke="#111" stroke-width="1.3"/>
<text x="65.05" y="577.60" font-size="8.80" stroke="#111" stroke-width="0.28" textLength="62.02" lengthAdjust="spacingAndGlyphs">Datopotamab</text>
<text x="153.45" y="577.60" font-size="8.80" stroke="#111" stroke-width="0.28" textLength="54.52" lengthAdjust="spacingAndGlyphs">Control ADC</text>
<text x="241.15" y="577.60" font-size="8.80" stroke="#111" stroke-width="0.28" textLength="43.72" lengthAdjust="spacingAndGlyphs">Dato-DXd</text>
<text x="305.10" y="382.30" font-size="17.50" stroke="#111" stroke-width="0.2" textLength="12.03" lengthAdjust="spacingAndGlyphs">E</text>
<line x1="369.50" y1="384.50" x2="369.50" y2="524.50" stroke="#6e6e6e" stroke-width="1"/>
<line x1="366.50" y1="524.50" x2="369.50" y2="524.50" stroke="#6e6e6e" stroke-width="1"/>
<text x="361.03" y="527.00" font-size="7.80" text-anchor="end" font-weight="normal" stroke="#111" stroke-width="0.32" textLength="4.95" lengthAdjust="spacingAndGlyphs">0</text>
<line x1="366.50" y1="500.50" x2="369.50" y2="500.50" stroke="#6e6e6e" stroke-width="1"/>
<text x="361.03" y="503.64" font-size="7.80" text-anchor="end" font-weight="normal" stroke="#111" stroke-width="0.32" textLength="4.95" lengthAdjust="spacingAndGlyphs">2</text>
<line x1="366.50" y1="477.50" x2="369.50" y2="477.50" stroke="#6e6e6e" stroke-width="1"/>
<text x="361.03" y="480.28" font-size="7.80" text-anchor="end" font-weight="normal" stroke="#111" stroke-width="0.32" textLength="4.95" lengthAdjust="spacingAndGlyphs">4</text>
<line x1="366.50" y1="454.50" x2="369.50" y2="454.50" stroke="#6e6e6e" stroke-width="1"/>
<text x="361.03" y="456.92" font-size="7.80" text-anchor="end" font-weight="normal" stroke="#111" stroke-width="0.32" textLength="4.95" lengthAdjust="spacingAndGlyphs">6</text>
<line x1="366.50" y1="430.50" x2="369.50" y2="430.50" stroke="#6e6e6e" stroke-width="1"/>
<text x="361.03" y="433.56" font-size="7.80" text-anchor="end" font-weight="normal" stroke="#111" stroke-width="0.32" textLength="4.95" lengthAdjust="spacingAndGlyphs">8</text>
<line x1="366.50" y1="407.50" x2="369.50" y2="407.50" stroke="#6e6e6e" stroke-width="1"/>
<text x="361.03" y="410.20" font-size="7.80" text-anchor="end" font-weight="normal" stroke="#111" stroke-width="0.32" textLength="9.35" lengthAdjust="spacingAndGlyphs">10</text>
<line x1="366.50" y1="384.50" x2="369.50" y2="384.50" stroke="#6e6e6e" stroke-width="1"/>
<text x="361.03" y="386.84" font-size="7.80" text-anchor="end" font-weight="normal" stroke="#111" stroke-width="0.32" textLength="9.35" lengthAdjust="spacingAndGlyphs">12</text>
<text x="341.10" y="538.05" font-size="8.80" stroke="#111" stroke-width="0.28" textLength="162.52" lengthAdjust="spacingAndGlyphs" transform="rotate(-90 341.10 538.05)">Concentration of DXd in tumor (ng/g)</text>
<rect x="386.50" y="518.69" width="13.90" height="5.61" fill="#1030a0"/>
<line x1="393.45" y1="517.06" x2="393.45" y2="518.69" stroke="#555" stroke-width="0.9"/>
<line x1="392.25" y1="517.06" x2="394.65" y2="517.06" stroke="#555" stroke-width="0.9"/>
<line x1="392.25" y1="518.69" x2="394.65" y2="518.69" stroke="#555" stroke-width="0.9"/>
<rect x="441.90" y="413.10" width="13.90" height="111.20" fill="#1030a0"/>
<line x1="448.85" y1="401.50" x2="448.85" y2="424.00" stroke="#505050" stroke-width="1.2"/>
<line x1="447.40" y1="401.50" x2="450.30" y2="401.50" stroke="#505050" stroke-width="1.3"/>
<text x="365.45" y="543.30" font-size="8.80" stroke="#111" stroke-width="0.28" textLength="54.22" lengthAdjust="spacingAndGlyphs">Control ADC</text>
<text x="428.45" y="543.30" font-size="8.80" stroke="#111" stroke-width="0.28" textLength="42.12" lengthAdjust="spacingAndGlyphs">Dato-DXd</text>
<text x="3.14" y="600.60" font-size="19.00" stroke="#111" stroke-width="0.2" textLength="11.03" lengthAdjust="spacingAndGlyphs">F</text>
<line x1="62.50" y1="600.50" x2="62.50" y2="712.50" stroke="#6e6e6e" stroke-width="1"/>
<line x1="59.50" y1="712.50" x2="62.50" y2="712.50" stroke="#6e6e6e" stroke-width="1"/>
<text x="54.83" y="715.00" font-size="7.80" text-anchor="end" font-weight="normal" stroke="#111" stroke-width="0.32" textLength="4.90" lengthAdjust="spacingAndGlyphs">0</text>
<line x1="59.50" y1="693.50" x2="62.50" y2="693.50" stroke="#6e6e6e" stroke-width="1"/>
<text x="54.83" y="696.28" font-size="7.80" text-anchor="end" font-weight="normal" stroke="#111" stroke-width="0.32" textLength="9.25" lengthAdjust="spacingAndGlyphs">20</text>
<line x1="59.50" y1="674.50" x2="62.50" y2="674.50" stroke="#6e6e6e" stroke-width="1"/>
<text x="54.83" y="677.57" font-size="7.80" text-anchor="end" font-weight="normal" stroke="#111" stroke-width="0.32" textLength="9.25" lengthAdjust="spacingAndGlyphs">40</text>
<line x1="59.50" y1="656.50" x2="62.50" y2="656.50" stroke="#6e6e6e" stroke-width="1"/>
<text x="54.83" y="658.85" font-size="7.80" text-anchor="end" font-weight="normal" stroke="#111" stroke-width="0.32" textLength="9.25" lengthAdjust="spacingAndGlyphs">60</text>
<line x1="59.50" y1="637.50" x2="62.50" y2="637.50" stroke="#6e6e6e" stroke-width="1"/>
<text x="54.83" y="640.14" font-size="7.80" text-anchor="end" font-weight="normal" stroke="#111" stroke-width="0.32" textLength="9.25" lengthAdjust="spacingAndGlyphs">80</text>
<line x1="59.50" y1="618.50" x2="62.50" y2="618.50" stroke="#6e6e6e" stroke-width="1"/>
<text x="54.83" y="621.42" font-size="7.80" text-anchor="end" font-weight="normal" stroke="#111" stroke-width="0.32" textLength="13.60" lengthAdjust="spacingAndGlyphs">100</text>
<line x1="59.50" y1="600.50" x2="62.50" y2="600.50" stroke="#6e6e6e" stroke-width="1"/>
<text x="54.83" y="602.70" font-size="7.80" text-anchor="end" font-weight="normal" stroke="#111" stroke-width="0.32" textLength="13.60" lengthAdjust="spacingAndGlyphs">120</text>
<text x="34.90" y="686.44" font-size="8.60" stroke="#111" stroke-width="0.28" textLength="59.10" lengthAdjust="spacingAndGlyphs" transform="rotate(-90 34.90 686.44)">γH2AX H-score</text>
<circle cx="79.60" cy="695.50" r="3.10" fill="#1cb0ea"/>
<circle cx="79.60" cy="698.50" r="3.10" fill="#1cb0ea"/>
<circle cx="96.62" cy="698.50" r="3.10" fill="#1cb0ea"/>
<circle cx="96.62" cy="702.50" r="3.10" fill="#1cb0ea"/>
<circle cx="113.64" cy="694.50" r="3.10" fill="#1cb0ea"/>
<circle cx="113.64" cy="697.00" r="3.10" fill="#1cb0ea"/>
<circle cx="113.64" cy="701.00" r="3.10" fill="#1cb0ea"/>
<circle cx="130.66" cy="697.00" r="3.10" fill="#1cb0ea"/>
<circle cx="130.66" cy="702.50" r="3.10" fill="#1cb0ea"/>
<circle cx="147.68" cy="681.50" r="3.10" fill="#1cb0ea"/>
<circle cx="147.68" cy="684.50" r="3.10" fill="#1cb0ea"/>
<circle cx="164.70" cy="655.10" r="3.10" fill="#1cb0ea"/>
<circle cx="164.70" cy="673.90" r="3.10" fill="#1cb0ea"/>
<circle cx="181.72" cy="622.70" r="3.10" fill="#1cb0ea"/>
<circle cx="181.72" cy="644.90" r="3.10" fill="#1cb0ea"/>
<circle cx="181.72" cy="647.70" r="3.10" fill="#1cb0ea"/>
<circle cx="198.74" cy="619.50" r="3.10" fill="#1cb0ea"/>
<circle cx="198.74" cy="641.30" r="3.10" fill="#1cb0ea"/>
<circle cx="215.76" cy="674.50" r="3.10" fill="#1cb0ea"/>
<circle cx="215.76" cy="687.60" r="3.10" fill="#1cb0ea"/>
<circle cx="232.78" cy="691.40" r="3.10" fill="#1cb0ea"/>
<circle cx="232.78" cy="696.70" r="3.10" fill="#1cb0ea"/>
<rect x="74.90" y="695.70" width="9.40" height="3.40" fill="#c00000"/>
<rect x="91.92" y="698.60" width="9.40" height="3.40" fill="#c00000"/>
<rect x="108.94" y="695.70" width="9.40" height="3.40" fill="#c00000"/>
<rect x="125.96" y="697.80" width="9.40" height="3.40" fill="#c00000"/>
<rect x="142.98" y="681.30" width="9.40" height="3.40" fill="#c00000"/>
<rect x="160.00" y="663.70" width="9.40" height="3.40" fill="#c00000"/>
<rect x="177.02" y="636.20" width="9.40" height="3.40" fill="#c00000"/>
<rect x="194.04" y="632.20" width="9.40" height="3.40" fill="#c00000"/>
<rect x="211.06" y="678.10" width="9.40" height="3.40" fill="#c00000"/>
<rect x="228.08" y="692.50" width="9.40" height="3.40" fill="#c00000"/>
<text x="79.60" y="730.90" font-size="6.80" text-anchor="middle" stroke="#111" stroke-width="0.28" textLength="11.48" lengthAdjust="spacingAndGlyphs">Pre</text>
<text x="96.62" y="730.90" font-size="6.80" text-anchor="middle" stroke="#111" stroke-width="0.28" textLength="8.48" lengthAdjust="spacingAndGlyphs">1d</text>
<text x="113.64" y="730.90" font-size="6.80" text-anchor="middle" stroke="#111" stroke-width="0.28" textLength="8.48" lengthAdjust="spacingAndGlyphs">1d</text>
<text x="130.66" y="730.90" font-size="6.80" text-anchor="middle" stroke="#111" stroke-width="0.28" textLength="10.78" lengthAdjust="spacingAndGlyphs">5m</text>
<text x="147.68" y="730.90" font-size="6.80" text-anchor="middle" stroke="#111" stroke-width="0.28" textLength="8.58" lengthAdjust="spacingAndGlyphs">6h</text>
<text x="164.70" y="730.90" font-size="6.80" text-anchor="middle" stroke="#111" stroke-width="0.28" textLength="8.48" lengthAdjust="spacingAndGlyphs">1d</text>
<text x="181.72" y="730.90" font-size="6.80" text-anchor="middle" stroke="#111" stroke-width="0.28" textLength="8.48" lengthAdjust="spacingAndGlyphs">3d</text>
<text x="198.74" y="730.90" font-size="6.80" text-anchor="middle" stroke="#111" stroke-width="0.28" textLength="8.48" lengthAdjust="spacingAndGlyphs">7d</text>
<text x="215.76" y="730.90" font-size="6.80" text-anchor="middle" stroke="#111" stroke-width="0.28" textLength="11.98" lengthAdjust="spacingAndGlyphs">14d</text>
<text x="232.78" y="730.90" font-size="6.80" text-anchor="middle" stroke="#111" stroke-width="0.28" textLength="11.98" lengthAdjust="spacingAndGlyphs">21d</text>
<line x1="125.50" y1="738.90" x2="239.50" y2="738.90" stroke="#111" stroke-width="1.3"/>
<text x="164.19" y="752.30" font-size="7.80" stroke="#111" stroke-width="0.28" textLength="38.05" lengthAdjust="spacingAndGlyphs">Dato-DXd</text>
<text x="13.76" y="736.90" font-size="8.60" stroke="#111" stroke-width="0.28" textLength="47.70" lengthAdjust="spacingAndGlyphs">Time points</text>
<text x="13.16" y="748.00" font-size="8.60" stroke="#111" stroke-width="0.28" textLength="48.30" lengthAdjust="spacingAndGlyphs">after dosing</text>
<text x="51.80" y="772.00" font-size="8.80" stroke="#111" stroke-width="0.28" textLength="55.50" lengthAdjust="spacingAndGlyphs" transform="rotate(-27 51.80 772.00)">Datopotamab</text>
<text x="79.60" y="769.50" font-size="8.80" stroke="#111" stroke-width="0.28" textLength="47.50" lengthAdjust="spacingAndGlyphs" transform="rotate(-27 79.60 769.50)">Control ADC</text>
<g clip-path="url(#hc0)">
<rect x="264.60" y="591.10" width="105.40" height="80.90" fill="#e7e9ef"/>
<rect x="264.60" y="591.10" width="105.40" height="80.90" fill="#fff" filter="url(#hd0)"/>
<rect x="264.60" y="591.10" width="105.40" height="80.90" fill="#fff" filter="url(#hf0)"/>
<rect x="264.60" y="591.10" width="105.40" height="80.90" fill="#fff" filter="url(#hw0)"/>
<g filter="url(#soft)">
<circle cx="281.55" cy="647.50" r="0.48" fill="#2a2018" opacity="0.81"/>
<circle cx="318.06" cy="607.07" r="0.60" fill="#2a2018" opacity="0.77"/>
<circle cx="272.15" cy="641.86" r="0.78" fill="#2a2018" opacity="0.87"/>
<circle cx="366.07" cy="607.67" r="0.75" fill="#4a3a2a" opacity="0.83"/>
<circle cx="324.56" cy="641.52" r="0.69" fill="#2a2018" opacity="0.87"/>
<circle cx="304.23" cy="640.70" r="0.47" fill="#2a2018" opacity="0.89"/>
<circle cx="320.55" cy="655.82" r="0.61" fill="#332a26" opacity="0.81"/>
<circle cx="284.51" cy="655.99" r="0.48" fill="#4a3a2a" opacity="0.86"/>
<circle cx="340.80" cy="623.58" r="0.79" fill="#2a2018" opacity="0.85"/>
<circle cx="301.13" cy="666.10" r="0.60" fill="#2a2018" opacity="0.93"/>
<circle cx="355.75" cy="625.28" r="0.69" fill="#332a26" opacity="0.87"/>
<circle cx="352.11" cy="666.19" r="0.64" fill="#9a7a55" opacity="0.37"/>
<circle cx="332.37" cy="669.96" r="0.75" fill="#8a6c4a" opacity="0.60"/>
<circle cx="301.63" cy="665.88" r="0.61" fill="#9a7a55" opacity="0.52"/>
<circle cx="295.53" cy="650.12" r="0.62" fill="#b49a72" opacity="0.38"/>
<circle cx="322.36" cy="661.42" r="0.75" fill="#8a6c4a" opacity="0.60"/>
<circle cx="336.01" cy="622.24" r="0.57" fill="#9a7a55" opacity="0.41"/>
</g>
<rect x="265.60" y="668.60" width="24.50" height="2.30" fill="#1e1e1e"/>
</g>
<text x="265.38" y="603.80" font-size="10.40" stroke="#111" stroke-width="0.28" textLength="71.43" lengthAdjust="spacingAndGlyphs">Pre-treatment</text>
<g clip-path="url(#hc1)">
<rect x="375.20" y="591.10" width="107.10" height="80.90" fill="#e5e8ef"/>
<rect x="375.20" y="591.10" width="107.10" height="80.90" fill="#fff" filter="url(#hd1)"/>
<rect x="375.20" y="591.10" width="107.10" height="80.90" fill="#fff" filter="url(#hf1)"/>
<rect x="375.20" y="591.10" width="107.10" height="80.90" fill="#fff" filter="url(#hw1)"/>
<g filter="url(#soft)">
<circle cx="400.99" cy="636.56" r="0.66" fill="#4a3a2a" opacity="0.78"/>
<circle cx="432.35" cy="644.79" r="0.56" fill="#3a2c22" opacity="0.91"/>
<circle cx="440.99" cy="649.16" r="0.47" fill="#332a26" opacity="0.82"/>
<circle cx="426.83" cy="630.99" r="0.52" fill="#3a2c22" opacity="0.83"/>
<circle cx="439.24" cy="611.35" r="0.65" fill="#2a2018" opacity="0.98"/>
<circle cx="384.02" cy="618.30" r="0.58" fill="#4a3a2a" opacity="0.99"/>
<circle cx="426.06" cy="612.20" r="0.62" fill="#332a26" opacity="0.84"/>
<circle cx="391.70" cy="654.00" r="0.71" fill="#332a26" opacity="0.95"/>
<circle cx="379.10" cy="667.27" r="0.63" fill="#3a2c22" opacity="0.91"/>
<circle cx="455.62" cy="624.24" r="0.68" fill="#2a2018" opacity="0.91"/>
<circle cx="414.87" cy="615.61" r="0.72" fill="#4a3a2a" opacity="0.89"/>
<circle cx="458.77" cy="651.67" r="0.56" fill="#a88a62" opacity="0.64"/>
<circle cx="400.30" cy="632.92" r="0.61" fill="#9a7a55" opacity="0.70"/>
<circle cx="425.86" cy="607.68" r="0.68" fill="#8a6c4a" opacity="0.51"/>
<circle cx="479.55" cy="666.99" r="0.61" fill="#a88a62" opacity="0.39"/>
<circle cx="411.86" cy="630.20" r="0.80" fill="#9a7a55" opacity="0.52"/>
<circle cx="459.94" cy="599.20" r="0.70" fill="#b49a72" opacity="0.62"/>
</g>
<rect x="376.20" y="668.60" width="24.50" height="2.30" fill="#1e1e1e"/>
</g>
<text x="375.98" y="603.80" font-size="10.40" stroke="#111" stroke-width="0.28" textLength="88.33" lengthAdjust="spacingAndGlyphs">Datopotamab_1d</text>
<g clip-path="url(#hc2)">
<rect x="264.60" y="676.60" width="105.40" height="81.80" fill="#e0e4ec"/>
<rect x="264.60" y="676.60" width="105.40" height="81.80" fill="#fff" filter="url(#hd2)"/>
<rect x="264.60" y="676.60" width="105.40" height="81.80" fill="#fff" filter="url(#hf2)"/>
<rect x="264.60" y="676.60" width="105.40" height="81.80" fill="#fff" filter="url(#hw2)"/>
<g filter="url(#soft)">
<circle cx="315.05" cy="702.03" r="0.73" fill="#4a3a2a" opacity="0.73"/>
<circle cx="340.01" cy="721.04" r="0.71" fill="#2a2018" opacity="0.92"/>
<circle cx="279.11" cy="700.20" r="0.77" fill="#3a2c22" opacity="0.88"/>
<circle cx="314.67" cy="752.72" r="0.50" fill="#3a2c22" opacity="0.71"/>
<circle cx="340.48" cy="696.97" r="0.71" fill="#3a2c22" opacity="0.83"/>
<circle cx="350.70" cy="704.20" r="0.54" fill="#4a3a2a" opacity="0.85"/>
<circle cx="299.48" cy="726.46" r="0.74" fill="#2a2018" opacity="0.97"/>
<circle cx="313.02" cy="729.07" r="0.77" fill="#332a26" opacity="0.95"/>
<circle cx="279.49" cy="700.24" r="0.63" fill="#332a26" opacity="0.93"/>
<circle cx="345.57" cy="700.11" r="0.50" fill="#2a2018" opacity="0.87"/>
<circle cx="319.18" cy="727.20" r="0.72" fill="#2a2018" opacity="0.96"/>
<circle cx="285.69" cy="681.43" r="0.53" fill="#b49a72" opacity="0.55"/>
<circle cx="359.54" cy="713.03" r="0.68" fill="#a88a62" opacity="0.59"/>
<circle cx="320.71" cy="715.77" r="0.78" fill="#8a6c4a" opacity="0.67"/>
<circle cx="286.85" cy="713.37" r="0.62" fill="#b49a72" opacity="0.50"/>
<circle cx="290.74" cy="683.86" r="0.70" fill="#9a7a55" opacity="0.66"/>
<circle cx="339.43" cy="730.13" r="0.54" fill="#a88a62" opacity="0.69"/>
</g>
<rect x="265.60" y="755.00" width="24.50" height="2.30" fill="#1e1e1e"/>
</g>
<text x="265.38" y="689.80" font-size="10.40" stroke="#111" stroke-width="0.28" textLength="79.83" lengthAdjust="spacingAndGlyphs">Control ADC_1d</text>
<g clip-path="url(#hc3)">
<rect x="375.20" y="676.60" width="107.10" height="81.80" fill="#e6e8ee"/>
<rect x="375.20" y="676.60" width="107.10" height="81.80" fill="#fff" filter="url(#hb3)"/>
<rect x="375.20" y="676.60" width="107.10" height="81.80" fill="#fff" filter="url(#hd3)"/>
<rect x="375.20" y="676.60" width="107.10" height="81.80" fill="#fff" filter="url(#hf3)"/>
<rect x="375.20" y="676.60" width="107.10" height="81.80" fill="#fff" filter="url(#hw3)"/>
<g filter="url(#soft)">
<g filter="url(#wobble)">
<line x1="419.2" y1="760.4" x2="471.2" y2="674.6" stroke="#f7f8fa" stroke-width="5.5" opacity="0.7" stroke-linecap="round"/>
<line x1="439.2" y1="760.4" x2="485.2" y2="696.6" stroke="#f7f8fa" stroke-width="3" opacity="0.5" stroke-linecap="round"/>
<line x1="377.2" y1="728.6" x2="417.2" y2="694.6" stroke="#f7f8fa" stroke-width="3.5" opacity="0.55" stroke-linecap="round"/>
<line x1="393.2" y1="754.6" x2="415.2" y2="734.6" stroke="#f7f8fa" stroke-width="3" opacity="0.45" stroke-linecap="round"/>
<line x1="395.2" y1="698.6" x2="409.2" y2="690.6" stroke="#f7f8fa" stroke-width="4" opacity="0.5" stroke-linecap="round"/>
</g>
<ellipse cx="389.2" cy="741.4" rx="14" ry="11" fill="#d8cdb2" opacity="0.18"/>
<circle cx="475.86" cy="709.48" r="0.64" fill="#a88a62" opacity="0.41"/>
<circle cx="430.37" cy="704.82" r="0.53" fill="#8a6c4a" opacity="0.38"/>
<circle cx="411.88" cy="714.24" r="0.73" fill="#b49a72" opacity="0.47"/>
<circle cx="430.03" cy="683.17" r="0.84" fill="#a88a62" opacity="0.69"/>
<circle cx="404.35" cy="681.22" r="0.76" fill="#8a6c4a" opacity="0.61"/>
<circle cx="465.14" cy="731.37" r="0.83" fill="#b49a72" opacity="0.40"/>
<circle cx="436.10" cy="733.29" r="0.49" fill="#9a7a55" opacity="0.63"/>
<circle cx="469.90" cy="699.29" r="0.46" fill="#9a7a55" opacity="0.63"/>
<circle cx="465.83" cy="683.35" r="0.80" fill="#b49a72" opacity="0.35"/>
<circle cx="420.19" cy="750.24" r="0.70" fill="#9a7a55" opacity="0.53"/>
<circle cx="388.09" cy="690.82" r="0.47" fill="#a88a62" opacity="0.68"/>
<circle cx="431.99" cy="694.32" r="0.63" fill="#a88a62" opacity="0.44"/>
<circle cx="480.23" cy="681.01" r="0.46" fill="#a88a62" opacity="0.53"/>
<circle cx="423.24" cy="729.98" r="0.71" fill="#b49a72" opacity="0.54"/>
<circle cx="477.71" cy="702.35" r="0.54" fill="#a88a62" opacity="0.47"/>
<circle cx="450.27" cy="728.21" r="0.61" fill="#8a6c4a" opacity="0.69"/>
<circle cx="378.18" cy="727.39" r="0.80" fill="#b49a72" opacity="0.41"/>
<circle cx="464.28" cy="746.70" r="0.72" fill="#8a6c4a" opacity="0.56"/>
<circle cx="381.41" cy="692.71" r="0.56" fill="#9a7a55" opacity="0.44"/>
<circle cx="477.95" cy="721.21" r="0.55" fill="#8a6c4a" opacity="0.43"/>
<circle cx="411.61" cy="684.71" r="0.56" fill="#a88a62" opacity="0.44"/>
<circle cx="386.16" cy="742.48" r="0.51" fill="#9a7a55" opacity="0.49"/>
<circle cx="442.25" cy="684.76" r="0.83" fill="#a88a62" opacity="0.58"/>
<circle cx="468.21" cy="708.79" r="0.58" fill="#b49a72" opacity="0.40"/>
<circle cx="443.66" cy="681.55" r="0.78" fill="#b49a72" opacity="0.61"/>
<circle cx="391.20" cy="719.37" r="0.65" fill="#9a7a55" opacity="0.64"/>
<circle cx="469.64" cy="731.91" r="0.73" fill="#a88a62" opacity="0.38"/>
<circle cx="443.02" cy="753.71" r="0.60" fill="#b49a72" opacity="0.55"/>
<circle cx="441.89" cy="731.74" r="0.65" fill="#9a7a55" opacity="0.51"/>
<circle cx="473.77" cy="748.85" r="0.49" fill="#9a7a55" opacity="0.61"/>
<circle cx="460.94" cy="744.78" r="0.54" fill="#a88a62" opacity="0.43"/>
<circle cx="424.62" cy="744.73" r="0.48" fill="#8a6c4a" opacity="0.62"/>
<circle cx="443.61" cy="684.20" r="0.51" fill="#8a6c4a" opacity="0.58"/>
<circle cx="441.36" cy="688.62" r="0.64" fill="#b49a72" opacity="0.44"/>
<circle cx="448.76" cy="731.35" r="0.57" fill="#8a6c4a" opacity="0.51"/>
<circle cx="389.04" cy="748.52" r="0.53" fill="#9a7a55" opacity="0.68"/>
<circle cx="424.48" cy="742.71" r="0.84" fill="#b49a72" opacity="0.70"/>
<circle cx="472.11" cy="751.43" r="0.48" fill="#9a7a55" opacity="0.40"/>
<circle cx="475.88" cy="688.55" r="0.78" fill="#8a6c4a" opacity="0.66"/>
<circle cx="400.79" cy="748.84" r="0.64" fill="#9a7a55" opacity="0.41"/>
<circle cx="447.65" cy="710.05" r="0.74" fill="#b49a72" opacity="0.47"/>
<circle cx="464.17" cy="678.24" r="0.75" fill="#b49a72" opacity="0.39"/>
<circle cx="450.93" cy="749.14" r="0.57" fill="#8a6c4a" opacity="0.37"/>
<circle cx="467.26" cy="684.12" r="0.82" fill="#8a6c4a" opacity="0.65"/>
<circle cx="382.07" cy="730.26" r="0.70" fill="#a88a62" opacity="0.44"/>
<circle cx="429.89" cy="693.06" r="0.60" fill="#b49a72" opacity="0.66"/>
<circle cx="442.38" cy="750.08" r="0.83" fill="#a88a62" opacity="0.60"/>
<circle cx="452.94" cy="713.63" r="0.75" fill="#8a6c4a" opacity="0.52"/>
<circle cx="433.97" cy="691.56" r="0.62" fill="#8a6c4a" opacity="0.45"/>
<circle cx="478.33" cy="698.60" r="0.71" fill="#8a6c4a" opacity="0.52"/>
<circle cx="389.17" cy="728.78" r="0.48" fill="#b49a72" opacity="0.54"/>
<circle cx="411.35" cy="737.93" r="0.62" fill="#a88a62" opacity="0.44"/>
<circle cx="434.57" cy="703.26" r="0.60" fill="#a88a62" opacity="0.66"/>
<circle cx="419.67" cy="710.71" r="0.66" fill="#b49a72" opacity="0.44"/>
<circle cx="428.56" cy="723.35" r="0.59" fill="#a88a62" opacity="0.38"/>
<circle cx="402.12" cy="739.90" r="0.81" fill="#b49a72" opacity="0.69"/>
<circle cx="388.86" cy="744.39" r="0.78" fill="#b49a72" opacity="0.69"/>
<circle cx="381.43" cy="731.61" r="0.66" fill="#9a7a55" opacity="0.68"/>
<circle cx="393.78" cy="736.38" r="0.48" fill="#9a7a55" opacity="0.35"/>
<circle cx="392.93" cy="728.80" r="0.74" fill="#a88a62" opacity="0.57"/>
<circle cx="392.33" cy="737.30" r="0.48" fill="#a88a62" opacity="0.49"/>
<circle cx="393.73" cy="728.15" r="0.57" fill="#b49a72" opacity="0.45"/>
<circle cx="393.07" cy="739.08" r="0.55" fill="#b49a72" opacity="0.60"/>
<circle cx="398.82" cy="746.44" r="0.71" fill="#9a7a55" opacity="0.44"/>
<circle cx="393.10" cy="740.19" r="0.59" fill="#b49a72" opacity="0.48"/>
<circle cx="397.87" cy="732.36" r="0.65" fill="#a88a62" opacity="0.52"/>
<circle cx="397.85" cy="732.55" r="0.64" fill="#8a6c4a" opacity="0.62"/>
<circle cx="402.50" cy="739.80" r="0.52" fill="#a88a62" opacity="0.52"/>
<circle cx="398.10" cy="737.92" r="0.61" fill="#a88a62" opacity="0.36"/>
<circle cx="394.28" cy="739.60" r="0.61" fill="#8a6c4a" opacity="0.61"/>
<circle cx="394.74" cy="740.88" r="0.82" fill="#b49a72" opacity="0.36"/>
<circle cx="399.11" cy="729.33" r="0.63" fill="#9a7a55" opacity="0.35"/>
<circle cx="387.49" cy="750.83" r="0.50" fill="#a88a62" opacity="0.48"/>
<circle cx="394.81" cy="735.32" r="0.47" fill="#b49a72" opacity="0.42"/>
<circle cx="394.28" cy="742.72" r="0.81" fill="#9a7a55" opacity="0.57"/>
<circle cx="394.34" cy="737.61" r="0.60" fill="#b49a72" opacity="0.37"/>
<circle cx="393.44" cy="740.51" r="0.69" fill="#8a6c4a" opacity="0.45"/>
<circle cx="395.32" cy="745.15" r="0.73" fill="#8a6c4a" opacity="0.45"/>
<circle cx="393.85" cy="740.52" r="0.83" fill="#9a7a55" opacity="0.64"/>
<circle cx="396.59" cy="739.08" r="0.76" fill="#8a6c4a" opacity="0.67"/>
<circle cx="398.25" cy="737.52" r="0.77" fill="#8a6c4a" opacity="0.64"/>
<circle cx="389.64" cy="751.28" r="0.63" fill="#9a7a55" opacity="0.53"/>
<circle cx="395.99" cy="740.09" r="0.46" fill="#8a6c4a" opacity="0.41"/>
<circle cx="399.09" cy="738.39" r="0.48" fill="#9a7a55" opacity="0.50"/>
<circle cx="393.94" cy="741.04" r="0.63" fill="#a88a62" opacity="0.61"/>
<circle cx="389.36" cy="736.41" r="0.57" fill="#8a6c4a" opacity="0.55"/>
<circle cx="388.66" cy="747.65" r="0.52" fill="#a88a62" opacity="0.40"/>
<circle cx="389.50" cy="744.71" r="0.55" fill="#a88a62" opacity="0.53"/>
<circle cx="398.91" cy="743.58" r="0.85" fill="#9a7a55" opacity="0.35"/>
<circle cx="400.74" cy="731.16" r="0.47" fill="#8a6c4a" opacity="0.43"/>
<circle cx="393.71" cy="747.77" r="0.53" fill="#9a7a55" opacity="0.48"/>
<circle cx="387.44" cy="734.98" r="0.72" fill="#9a7a55" opacity="0.39"/>
<circle cx="388.30" cy="744.25" r="0.59" fill="#9a7a55" opacity="0.42"/>
<circle cx="393.69" cy="743.54" r="0.53" fill="#9a7a55" opacity="0.64"/>
<circle cx="394.32" cy="742.33" r="0.53" fill="#b49a72" opacity="0.54"/>
<circle cx="381.23" cy="737.39" r="0.67" fill="#9a7a55" opacity="0.58"/>
<circle cx="390.20" cy="740.90" r="0.57" fill="#9a7a55" opacity="0.46"/>
<circle cx="392.29" cy="739.54" r="0.76" fill="#8a6c4a" opacity="0.58"/>
<circle cx="393.07" cy="739.57" r="0.81" fill="#b49a72" opacity="0.39"/>
<circle cx="393.14" cy="736.65" r="0.76" fill="#a88a62" opacity="0.36"/>
<circle cx="462.93" cy="707.76" r="0.52" fill="#9a7a55" opacity="0.39"/>
<circle cx="461.87" cy="713.05" r="0.47" fill="#b49a72" opacity="0.46"/>
<circle cx="457.84" cy="703.34" r="0.70" fill="#a88a62" opacity="0.57"/>
<circle cx="458.06" cy="702.10" r="0.78" fill="#a88a62" opacity="0.55"/>
<circle cx="470.78" cy="686.83" r="0.59" fill="#a88a62" opacity="0.44"/>
<circle cx="469.27" cy="707.13" r="0.75" fill="#9a7a55" opacity="0.58"/>
<circle cx="460.92" cy="686.31" r="0.70" fill="#8a6c4a" opacity="0.58"/>
<circle cx="459.06" cy="708.46" r="0.63" fill="#b49a72" opacity="0.41"/>
<circle cx="471.49" cy="700.11" r="0.63" fill="#b49a72" opacity="0.64"/>
<circle cx="466.66" cy="690.58" r="0.62" fill="#9a7a55" opacity="0.63"/>
<circle cx="469.95" cy="699.17" r="0.48" fill="#8a6c4a" opacity="0.62"/>
<circle cx="464.41" cy="697.33" r="0.71" fill="#a88a62" opacity="0.36"/>
<circle cx="465.91" cy="709.88" r="0.49" fill="#a88a62" opacity="0.69"/>
<circle cx="461.81" cy="699.94" r="0.54" fill="#8a6c4a" opacity="0.56"/>
<circle cx="461.56" cy="706.48" r="0.81" fill="#b49a72" opacity="0.40"/>
<circle cx="465.83" cy="692.29" r="0.65" fill="#8a6c4a" opacity="0.48"/>
<circle cx="462.75" cy="707.47" r="0.56" fill="#8a6c4a" opacity="0.66"/>
<circle cx="468.47" cy="685.05" r="0.66" fill="#8a6c4a" opacity="0.69"/>
<circle cx="457.19" cy="693.74" r="0.49" fill="#b49a72" opacity="0.61"/>
<circle cx="470.26" cy="688.96" r="0.59" fill="#9a7a55" opacity="0.50"/>
<circle cx="467.85" cy="682.18" r="0.78" fill="#8a6c4a" opacity="0.46"/>
<circle cx="472.10" cy="694.03" r="0.74" fill="#9a7a55" opacity="0.43"/>
<circle cx="466.08" cy="698.06" r="0.60" fill="#9a7a55" opacity="0.40"/>
<circle cx="466.50" cy="681.06" r="0.45" fill="#8a6c4a" opacity="0.46"/>
<circle cx="465.30" cy="702.95" r="0.69" fill="#a88a62" opacity="0.48"/>
<circle cx="470.53" cy="712.86" r="0.55" fill="#a88a62" opacity="0.51"/>
<circle cx="458.87" cy="708.72" r="0.56" fill="#8a6c4a" opacity="0.69"/>
<circle cx="469.01" cy="718.49" r="0.69" fill="#b49a72" opacity="0.56"/>
<circle cx="465.10" cy="697.92" r="0.47" fill="#9a7a55" opacity="0.49"/>
<circle cx="457.58" cy="713.59" r="0.45" fill="#a88a62" opacity="0.40"/>
<circle cx="440.00" cy="718.05" r="0.67" fill="#3a2c22" opacity="0.85"/>
<circle cx="441.86" cy="756.43" r="0.70" fill="#332a26" opacity="0.91"/>
<circle cx="464.61" cy="736.82" r="0.61" fill="#332a26" opacity="0.75"/>
<circle cx="403.91" cy="728.85" r="0.49" fill="#4a3a2a" opacity="0.91"/>
<circle cx="434.35" cy="712.46" r="0.73" fill="#4a3a2a" opacity="0.79"/>
<circle cx="469.78" cy="684.83" r="0.63" fill="#3a2c22" opacity="0.78"/>
<circle cx="454.14" cy="752.54" r="0.71" fill="#4a3a2a" opacity="0.76"/>
<circle cx="439.29" cy="708.00" r="0.75" fill="#332a26" opacity="0.84"/>
<circle cx="377.36" cy="680.19" r="0.78" fill="#3a2c22" opacity="0.87"/>
<circle cx="398.77" cy="727.16" r="0.48" fill="#3a2c22" opacity="0.74"/>
<circle cx="387.81" cy="751.30" r="0.57" fill="#3a2c22" opacity="0.91"/>
<circle cx="391.11" cy="728.81" r="0.46" fill="#2a2018" opacity="0.92"/>
<circle cx="438.17" cy="706.74" r="0.74" fill="#2a2018" opacity="0.96"/>
<circle cx="450.74" cy="708.35" r="0.54" fill="#3a2c22" opacity="0.73"/>
<circle cx="464.95" cy="742.09" r="0.67" fill="#4a3a2a" opacity="0.84"/>
<circle cx="459.14" cy="729.03" r="0.55" fill="#4a3a2a" opacity="0.83"/>
<circle cx="403.42" cy="700.37" r="0.70" fill="#4a3a2a" opacity="0.97"/>
<circle cx="439.37" cy="715.62" r="0.55" fill="#2a2018" opacity="0.94"/>
<circle cx="430.69" cy="685.85" r="0.61" fill="#2a2018" opacity="0.86"/>
<circle cx="466.46" cy="685.26" r="0.74" fill="#3a2c22" opacity="0.83"/>
<circle cx="406.72" cy="737.24" r="0.47" fill="#4a3a2a" opacity="0.85"/>
<circle cx="459.64" cy="692.64" r="0.62" fill="#4a3a2a" opacity="0.99"/>
<circle cx="393.15" cy="731.71" r="0.74" fill="#3a2c22" opacity="0.85"/>
<circle cx="394.61" cy="729.84" r="0.73" fill="#2a2018" opacity="0.89"/>
<circle cx="388.73" cy="737.37" r="0.76" fill="#2a2018" opacity="0.83"/>
<circle cx="388.00" cy="735.18" r="0.60" fill="#3a2c22" opacity="0.81"/>
<circle cx="384.54" cy="738.96" r="0.64" fill="#2a2018" opacity="0.80"/>
<circle cx="382.58" cy="748.13" r="0.68" fill="#4a3a2a" opacity="0.75"/>
<circle cx="398.04" cy="741.80" r="0.49" fill="#332a26" opacity="0.89"/>
<circle cx="391.39" cy="734.32" r="0.71" fill="#3a2c22" opacity="0.92"/>
<circle cx="396.78" cy="742.37" r="0.57" fill="#3a2c22" opacity="0.80"/>
<circle cx="403.08" cy="745.39" r="0.49" fill="#2a2018" opacity="0.76"/>
</g>
<rect x="376.20" y="755.00" width="24.50" height="2.30" fill="#1e1e1e"/>
</g>
<text x="375.98" y="689.80" font-size="10.40" stroke="#111" stroke-width="0.28" textLength="66.43" lengthAdjust="spacingAndGlyphs">Dato-DXd_1d</text>
<g clip-path="url(#hc4)">
<rect x="264.60" y="763.00" width="105.40" height="81.60" fill="#ebebed"/>
<rect x="264.60" y="763.00" width="105.40" height="81.60" fill="#fff" filter="url(#hb4)"/>
<rect x="264.60" y="763.00" width="105.40" height="81.60" fill="#fff" filter="url(#hd4)"/>
<rect x="264.60" y="763.00" width="105.40" height="81.60" fill="#fff" filter="url(#hf4)"/>
<rect x="264.60" y="763.00" width="105.40" height="81.60" fill="#fff" filter="url(#hw4)"/>
<g filter="url(#soft)">
<circle cx="296.55" cy="786.02" r="0.81" fill="#8a6c4a" opacity="0.37"/>
<circle cx="305.87" cy="767.17" r="0.76" fill="#a88a62" opacity="0.48"/>
<circle cx="330.86" cy="800.91" r="0.67" fill="#b49a72" opacity="0.30"/>
<circle cx="326.25" cy="815.37" r="0.70" fill="#a88a62" opacity="0.54"/>
<circle cx="331.79" cy="800.18" r="0.68" fill="#9a7a55" opacity="0.61"/>
<circle cx="333.80" cy="833.12" r="0.55" fill="#9a7a55" opacity="0.44"/>
<circle cx="316.26" cy="841.11" r="0.64" fill="#a88a62" opacity="0.55"/>
<circle cx="363.52" cy="780.21" r="0.78" fill="#b49a72" opacity="0.49"/>
<circle cx="339.55" cy="804.76" r="0.77" fill="#8a6c4a" opacity="0.44"/>
<circle cx="363.17" cy="781.01" r="0.58" fill="#9a7a55" opacity="0.56"/>
<circle cx="328.97" cy="814.61" r="0.57" fill="#9a7a55" opacity="0.30"/>
<circle cx="302.16" cy="785.34" r="0.73" fill="#a88a62" opacity="0.65"/>
<circle cx="364.49" cy="800.82" r="0.82" fill="#9a7a55" opacity="0.58"/>
<circle cx="331.05" cy="801.38" r="0.50" fill="#a88a62" opacity="0.42"/>
<circle cx="331.51" cy="828.85" r="0.61" fill="#8a6c4a" opacity="0.57"/>
<circle cx="332.62" cy="825.80" r="0.75" fill="#a88a62" opacity="0.39"/>
<circle cx="304.62" cy="784.43" r="0.48" fill="#9a7a55" opacity="0.58"/>
<circle cx="347.91" cy="792.64" r="0.54" fill="#b49a72" opacity="0.45"/>
<circle cx="331.36" cy="816.32" r="0.82" fill="#b49a72" opacity="0.32"/>
<circle cx="350.88" cy="835.70" r="0.46" fill="#8a6c4a" opacity="0.52"/>
<circle cx="333.27" cy="784.15" r="0.46" fill="#a88a62" opacity="0.36"/>
<circle cx="312.38" cy="826.19" r="0.58" fill="#a88a62" opacity="0.51"/>
<circle cx="336.55" cy="841.31" r="0.81" fill="#8a6c4a" opacity="0.37"/>
<circle cx="337.04" cy="806.22" r="0.60" fill="#9a7a55" opacity="0.49"/>
<circle cx="293.18" cy="782.91" r="0.62" fill="#9a7a55" opacity="0.47"/>
<circle cx="358.82" cy="819.55" r="0.47" fill="#9a7a55" opacity="0.36"/>
<circle cx="368.49" cy="817.63" r="0.56" fill="#9a7a55" opacity="0.31"/>
<circle cx="348.90" cy="771.89" r="0.74" fill="#a88a62" opacity="0.31"/>
<circle cx="339.64" cy="813.65" r="0.79" fill="#8a6c4a" opacity="0.42"/>
<circle cx="295.20" cy="791.38" r="0.42" fill="#8a6c4a" opacity="0.40"/>
<circle cx="350.86" cy="796.23" r="0.52" fill="#8a6c4a" opacity="0.64"/>
<circle cx="333.13" cy="826.75" r="0.54" fill="#8a6c4a" opacity="0.34"/>
<circle cx="306.95" cy="808.07" r="0.66" fill="#b49a72" opacity="0.41"/>
<circle cx="328.43" cy="816.22" r="0.81" fill="#b49a72" opacity="0.52"/>
<circle cx="330.29" cy="819.24" r="0.71" fill="#a88a62" opacity="0.31"/>
<circle cx="330.98" cy="813.65" r="0.70" fill="#9a7a55" opacity="0.45"/>
<circle cx="276.40" cy="837.64" r="0.79" fill="#a88a62" opacity="0.58"/>
<circle cx="323.66" cy="784.78" r="0.59" fill="#8a6c4a" opacity="0.31"/>
<circle cx="345.33" cy="797.60" r="0.58" fill="#9a7a55" opacity="0.30"/>
<circle cx="366.53" cy="801.87" r="0.45" fill="#b49a72" opacity="0.37"/>
<circle cx="281.64" cy="765.72" r="0.71" fill="#9a7a55" opacity="0.65"/>
<circle cx="354.01" cy="781.65" r="0.61" fill="#8a6c4a" opacity="0.55"/>
<circle cx="290.91" cy="822.16" r="0.42" fill="#a88a62" opacity="0.56"/>
<circle cx="313.26" cy="837.78" r="0.83" fill="#9a7a55" opacity="0.30"/>
<circle cx="311.03" cy="817.70" r="0.76" fill="#8a6c4a" opacity="0.63"/>
<circle cx="345.78" cy="800.09" r="0.74" fill="#8a6c4a" opacity="0.40"/>
<circle cx="350.83" cy="790.60" r="0.84" fill="#a88a62" opacity="0.51"/>
<circle cx="357.86" cy="827.97" r="0.40" fill="#8a6c4a" opacity="0.39"/>
<circle cx="346.29" cy="787.18" r="0.80" fill="#a88a62" opacity="0.40"/>
<circle cx="353.26" cy="827.93" r="0.81" fill="#8a6c4a" opacity="0.49"/>
<circle cx="321.39" cy="802.60" r="0.75" fill="#a88a62" opacity="0.41"/>
<circle cx="360.92" cy="810.59" r="0.57" fill="#9a7a55" opacity="0.49"/>
<circle cx="298.97" cy="804.28" r="0.50" fill="#9a7a55" opacity="0.36"/>
<circle cx="337.89" cy="793.02" r="0.58" fill="#a88a62" opacity="0.39"/>
<circle cx="304.16" cy="800.93" r="0.54" fill="#9a7a55" opacity="0.42"/>
<circle cx="319.29" cy="766.12" r="0.85" fill="#b49a72" opacity="0.51"/>
<circle cx="300.80" cy="842.68" r="0.41" fill="#9a7a55" opacity="0.50"/>
<circle cx="359.28" cy="769.55" r="0.58" fill="#9a7a55" opacity="0.55"/>
<circle cx="275.31" cy="789.55" r="0.44" fill="#b49a72" opacity="0.36"/>
<circle cx="353.11" cy="793.65" r="0.72" fill="#a88a62" opacity="0.31"/>
<circle cx="358.73" cy="830.31" r="0.75" fill="#b49a72" opacity="0.32"/>
<circle cx="335.41" cy="787.99" r="0.74" fill="#9a7a55" opacity="0.46"/>
<circle cx="304.16" cy="795.16" r="0.57" fill="#b49a72" opacity="0.38"/>
<circle cx="280.76" cy="817.76" r="0.72" fill="#a88a62" opacity="0.58"/>
<circle cx="282.17" cy="829.96" r="0.68" fill="#8a6c4a" opacity="0.61"/>
<circle cx="280.41" cy="799.65" r="0.82" fill="#9a7a55" opacity="0.52"/>
<circle cx="315.00" cy="813.88" r="0.50" fill="#9a7a55" opacity="0.36"/>
<circle cx="312.32" cy="834.40" r="0.47" fill="#b49a72" opacity="0.44"/>
<circle cx="298.67" cy="835.49" r="0.84" fill="#9a7a55" opacity="0.52"/>
<circle cx="346.75" cy="837.22" r="0.78" fill="#9a7a55" opacity="0.39"/>
<circle cx="368.30" cy="837.21" r="0.53" fill="#a88a62" opacity="0.32"/>
<circle cx="320.02" cy="779.11" r="0.81" fill="#a88a62" opacity="0.40"/>
<circle cx="350.99" cy="834.40" r="0.74" fill="#a88a62" opacity="0.37"/>
<circle cx="328.81" cy="820.13" r="0.66" fill="#a88a62" opacity="0.30"/>
<circle cx="336.99" cy="805.34" r="0.81" fill="#8a6c4a" opacity="0.42"/>
<circle cx="352.31" cy="832.45" r="0.41" fill="#b49a72" opacity="0.35"/>
<circle cx="334.25" cy="784.02" r="0.84" fill="#9a7a55" opacity="0.36"/>
<circle cx="304.11" cy="811.26" r="0.63" fill="#b49a72" opacity="0.64"/>
<circle cx="273.41" cy="792.54" r="0.77" fill="#8a6c4a" opacity="0.57"/>
<circle cx="279.86" cy="783.64" r="0.68" fill="#a88a62" opacity="0.34"/>
<circle cx="291.75" cy="828.73" r="0.44" fill="#a88a62" opacity="0.39"/>
<circle cx="351.84" cy="814.56" r="0.51" fill="#b49a72" opacity="0.34"/>
<circle cx="355.14" cy="820.86" r="0.46" fill="#b49a72" opacity="0.51"/>
<circle cx="344.08" cy="773.15" r="0.80" fill="#a88a62" opacity="0.60"/>
<circle cx="345.66" cy="791.11" r="0.55" fill="#b49a72" opacity="0.60"/>
<circle cx="323.90" cy="841.99" r="0.58" fill="#9a7a55" opacity="0.41"/>
<circle cx="355.24" cy="816.62" r="0.45" fill="#a88a62" opacity="0.32"/>
<circle cx="310.44" cy="804.18" r="0.46" fill="#b49a72" opacity="0.57"/>
<circle cx="362.04" cy="814.27" r="0.80" fill="#9a7a55" opacity="0.31"/>
<circle cx="331.80" cy="785.39" r="0.52" fill="#9a7a55" opacity="0.52"/>
<circle cx="363.47" cy="787.10" r="0.69" fill="#9a7a55" opacity="0.32"/>
<circle cx="364.31" cy="836.90" r="0.44" fill="#a88a62" opacity="0.45"/>
<circle cx="325.22" cy="786.05" r="0.73" fill="#8a6c4a" opacity="0.59"/>
<circle cx="328.56" cy="809.32" r="0.49" fill="#8a6c4a" opacity="0.46"/>
<circle cx="322.22" cy="812.67" r="0.54" fill="#a88a62" opacity="0.42"/>
<circle cx="306.70" cy="837.14" r="0.83" fill="#8a6c4a" opacity="0.49"/>
<circle cx="296.36" cy="825.19" r="0.43" fill="#8a6c4a" opacity="0.45"/>
<circle cx="341.41" cy="773.09" r="0.83" fill="#a88a62" opacity="0.45"/>
<circle cx="334.53" cy="775.53" r="0.67" fill="#8a6c4a" opacity="0.59"/>
<circle cx="319.12" cy="822.57" r="0.74" fill="#b49a72" opacity="0.39"/>
<circle cx="330.68" cy="814.19" r="0.59" fill="#9a7a55" opacity="0.30"/>
<circle cx="344.51" cy="810.55" r="0.83" fill="#a88a62" opacity="0.45"/>
<circle cx="346.35" cy="833.10" r="0.57" fill="#b49a72" opacity="0.54"/>
<circle cx="319.97" cy="811.30" r="0.40" fill="#b49a72" opacity="0.43"/>
<circle cx="310.71" cy="794.13" r="0.77" fill="#8a6c4a" opacity="0.41"/>
<circle cx="321.24" cy="842.97" r="0.63" fill="#b49a72" opacity="0.44"/>
<circle cx="302.73" cy="811.25" r="0.83" fill="#9a7a55" opacity="0.48"/>
<circle cx="364.86" cy="802.76" r="0.68" fill="#8a6c4a" opacity="0.54"/>
<circle cx="342.54" cy="771.75" r="0.56" fill="#9a7a55" opacity="0.59"/>
<circle cx="357.05" cy="797.58" r="0.53" fill="#a88a62" opacity="0.48"/>
<circle cx="331.28" cy="767.83" r="0.75" fill="#8a6c4a" opacity="0.55"/>
<circle cx="322.72" cy="836.58" r="0.44" fill="#9a7a55" opacity="0.53"/>
<circle cx="368.20" cy="809.65" r="0.45" fill="#a88a62" opacity="0.48"/>
<circle cx="318.27" cy="766.78" r="0.83" fill="#b49a72" opacity="0.59"/>
<circle cx="328.87" cy="827.90" r="0.41" fill="#8a6c4a" opacity="0.35"/>
<circle cx="290.50" cy="786.15" r="0.68" fill="#9a7a55" opacity="0.42"/>
<circle cx="312.16" cy="794.81" r="0.80" fill="#9a7a55" opacity="0.45"/>
<circle cx="329.61" cy="784.10" r="0.82" fill="#a88a62" opacity="0.41"/>
<circle cx="358.14" cy="828.63" r="0.67" fill="#b49a72" opacity="0.64"/>
<circle cx="325.99" cy="797.00" r="0.72" fill="#9a7a55" opacity="0.58"/>
<circle cx="323.60" cy="773.53" r="0.57" fill="#b49a72" opacity="0.53"/>
<circle cx="322.81" cy="794.95" r="0.56" fill="#b49a72" opacity="0.31"/>
<circle cx="334.12" cy="791.34" r="0.72" fill="#9a7a55" opacity="0.37"/>
<circle cx="321.89" cy="826.39" r="0.61" fill="#a88a62" opacity="0.36"/>
<circle cx="302.24" cy="821.29" r="0.83" fill="#a88a62" opacity="0.40"/>
<circle cx="320.85" cy="796.27" r="0.46" fill="#9a7a55" opacity="0.54"/>
<circle cx="337.23" cy="825.50" r="0.48" fill="#9a7a55" opacity="0.32"/>
<circle cx="359.68" cy="827.79" r="0.49" fill="#8a6c4a" opacity="0.33"/>
<circle cx="330.41" cy="813.91" r="0.82" fill="#a88a62" opacity="0.31"/>
<circle cx="335.69" cy="816.66" r="0.59" fill="#b49a72" opacity="0.39"/>
<circle cx="352.80" cy="792.18" r="0.48" fill="#9a7a55" opacity="0.39"/>
<circle cx="328.45" cy="781.73" r="0.58" fill="#a88a62" opacity="0.45"/>
<circle cx="343.61" cy="776.78" r="0.65" fill="#a88a62" opacity="0.50"/>
<circle cx="360.89" cy="817.17" r="0.82" fill="#9a7a55" opacity="0.59"/>
<circle cx="345.61" cy="787.01" r="0.78" fill="#9a7a55" opacity="0.64"/>
<circle cx="335.84" cy="767.42" r="0.75" fill="#8a6c4a" opacity="0.56"/>
<circle cx="342.65" cy="829.64" r="0.44" fill="#b49a72" opacity="0.45"/>
<circle cx="352.00" cy="813.70" r="0.70" fill="#a88a62" opacity="0.45"/>
<circle cx="318.52" cy="837.45" r="0.74" fill="#9a7a55" opacity="0.63"/>
<circle cx="350.60" cy="808.45" r="0.47" fill="#a88a62" opacity="0.49"/>
<circle cx="308.25" cy="780.33" r="0.46" fill="#b49a72" opacity="0.53"/>
<circle cx="311.67" cy="838.06" r="0.53" fill="#a88a62" opacity="0.51"/>
<circle cx="290.75" cy="813.97" r="0.59" fill="#a88a62" opacity="0.54"/>
<circle cx="267.37" cy="802.75" r="0.80" fill="#8a6c4a" opacity="0.37"/>
<circle cx="337.95" cy="799.71" r="0.55" fill="#b49a72" opacity="0.50"/>
<circle cx="295.75" cy="808.32" r="0.61" fill="#b49a72" opacity="0.33"/>
<circle cx="339.54" cy="841.55" r="0.45" fill="#b49a72" opacity="0.63"/>
<circle cx="316.11" cy="826.11" r="0.56" fill="#9a7a55" opacity="0.53"/>
<circle cx="330.38" cy="838.01" r="0.51" fill="#a88a62" opacity="0.33"/>
<circle cx="342.64" cy="766.49" r="0.47" fill="#8a6c4a" opacity="0.37"/>
<circle cx="331.44" cy="830.97" r="0.48" fill="#8a6c4a" opacity="0.56"/>
<circle cx="303.91" cy="829.85" r="0.42" fill="#b49a72" opacity="0.62"/>
<circle cx="362.86" cy="803.36" r="0.47" fill="#8a6c4a" opacity="0.51"/>
<circle cx="330.25" cy="775.65" r="0.46" fill="#b49a72" opacity="0.33"/>
<circle cx="270.19" cy="799.04" r="0.73" fill="#9a7a55" opacity="0.31"/>
<circle cx="328.64" cy="830.02" r="0.46" fill="#9a7a55" opacity="0.53"/>
<circle cx="318.80" cy="797.61" r="0.60" fill="#a88a62" opacity="0.62"/>
<circle cx="323.79" cy="791.86" r="0.44" fill="#8a6c4a" opacity="0.48"/>
<circle cx="331.00" cy="831.16" r="0.73" fill="#9a7a55" opacity="0.35"/>
<circle cx="286.87" cy="823.44" r="0.78" fill="#9a7a55" opacity="0.37"/>
<circle cx="334.73" cy="820.24" r="0.61" fill="#9a7a55" opacity="0.56"/>
<circle cx="359.21" cy="809.06" r="0.71" fill="#b49a72" opacity="0.35"/>
<circle cx="318.85" cy="800.66" r="0.64" fill="#a88a62" opacity="0.50"/>
<circle cx="267.65" cy="811.21" r="0.53" fill="#a88a62" opacity="0.45"/>
<circle cx="357.10" cy="813.32" r="0.65" fill="#8a6c4a" opacity="0.36"/>
<circle cx="342.43" cy="791.33" r="0.71" fill="#8a6c4a" opacity="0.34"/>
<circle cx="340.01" cy="767.92" r="0.44" fill="#8a6c4a" opacity="0.58"/>
<circle cx="351.93" cy="810.20" r="0.41" fill="#9a7a55" opacity="0.33"/>
<circle cx="355.57" cy="817.13" r="0.66" fill="#8a6c4a" opacity="0.49"/>
<circle cx="267.51" cy="791.41" r="0.63" fill="#9a7a55" opacity="0.58"/>
<circle cx="335.68" cy="795.36" r="0.47" fill="#b49a72" opacity="0.44"/>
<circle cx="355.50" cy="812.51" r="0.55" fill="#a88a62" opacity="0.41"/>
<circle cx="279.51" cy="813.60" r="0.77" fill="#b49a72" opacity="0.42"/>
<circle cx="314.06" cy="838.18" r="0.55" fill="#b49a72" opacity="0.42"/>
<circle cx="364.09" cy="842.49" r="0.65" fill="#9a7a55" opacity="0.61"/>
<circle cx="345.39" cy="814.26" r="0.56" fill="#8a6c4a" opacity="0.58"/>
<circle cx="290.48" cy="827.12" r="0.43" fill="#8a6c4a" opacity="0.56"/>
<circle cx="318.21" cy="814.43" r="0.65" fill="#b49a72" opacity="0.42"/>
<circle cx="338.21" cy="817.30" r="0.75" fill="#8a6c4a" opacity="0.61"/>
<circle cx="348.96" cy="842.84" r="0.49" fill="#b49a72" opacity="0.44"/>
<circle cx="326.19" cy="775.80" r="0.51" fill="#8a6c4a" opacity="0.33"/>
<circle cx="365.48" cy="818.76" r="0.81" fill="#b49a72" opacity="0.41"/>
<circle cx="343.77" cy="813.74" r="0.41" fill="#9a7a55" opacity="0.44"/>
<circle cx="332.46" cy="779.96" r="0.83" fill="#9a7a55" opacity="0.33"/>
<circle cx="348.99" cy="833.32" r="0.46" fill="#a88a62" opacity="0.39"/>
<circle cx="331.89" cy="765.68" r="0.41" fill="#8a6c4a" opacity="0.41"/>
<circle cx="342.83" cy="815.51" r="0.71" fill="#8a6c4a" opacity="0.36"/>
<circle cx="354.50" cy="827.09" r="0.68" fill="#b49a72" opacity="0.65"/>
<circle cx="351.60" cy="776.81" r="0.49" fill="#9a7a55" opacity="0.43"/>
<circle cx="324.98" cy="782.58" r="0.77" fill="#b49a72" opacity="0.57"/>
<circle cx="345.56" cy="788.81" r="0.84" fill="#b49a72" opacity="0.50"/>
<circle cx="303.10" cy="806.13" r="0.51" fill="#b49a72" opacity="0.33"/>
<circle cx="348.96" cy="841.28" r="0.68" fill="#b49a72" opacity="0.56"/>
<circle cx="275.31" cy="766.70" r="0.43" fill="#a88a62" opacity="0.49"/>
<circle cx="360.46" cy="777.24" r="0.75" fill="#a88a62" opacity="0.45"/>
<circle cx="358.37" cy="795.08" r="0.76" fill="#9a7a55" opacity="0.34"/>
<circle cx="341.20" cy="769.64" r="0.58" fill="#8a6c4a" opacity="0.32"/>
<circle cx="362.86" cy="813.79" r="0.51" fill="#8a6c4a" opacity="0.55"/>
<circle cx="363.82" cy="775.23" r="0.44" fill="#9a7a55" opacity="0.47"/>
<circle cx="357.34" cy="777.20" r="0.67" fill="#b49a72" opacity="0.37"/>
<circle cx="311.06" cy="798.68" r="0.82" fill="#9a7a55" opacity="0.58"/>
<circle cx="281.66" cy="836.24" r="0.54" fill="#8a6c4a" opacity="0.33"/>
<circle cx="283.38" cy="818.17" r="0.55" fill="#b49a72" opacity="0.61"/>
<circle cx="366.42" cy="767.09" r="0.76" fill="#9a7a55" opacity="0.31"/>
<circle cx="317.79" cy="782.71" r="0.45" fill="#9a7a55" opacity="0.32"/>
<circle cx="357.65" cy="769.57" r="0.83" fill="#a88a62" opacity="0.48"/>
<circle cx="365.64" cy="782.10" r="0.72" fill="#9a7a55" opacity="0.39"/>
<circle cx="307.89" cy="808.25" r="0.40" fill="#9a7a55" opacity="0.53"/>
<circle cx="321.80" cy="807.64" r="0.84" fill="#8a6c4a" opacity="0.44"/>
<circle cx="305.74" cy="794.79" r="0.46" fill="#9a7a55" opacity="0.38"/>
<circle cx="317.41" cy="842.21" r="0.73" fill="#a88a62" opacity="0.59"/>
<circle cx="334.03" cy="771.32" r="0.42" fill="#9a7a55" opacity="0.44"/>
<circle cx="323.29" cy="818.33" r="0.70" fill="#b49a72" opacity="0.64"/>
<circle cx="304.89" cy="820.48" r="0.64" fill="#8a6c4a" opacity="0.33"/>
<circle cx="353.93" cy="791.84" r="0.66" fill="#a88a62" opacity="0.32"/>
<circle cx="343.64" cy="793.12" r="0.48" fill="#8a6c4a" opacity="0.38"/>
<circle cx="331.69" cy="829.54" r="0.79" fill="#9a7a55" opacity="0.41"/>
<circle cx="303.14" cy="832.38" r="0.58" fill="#8a6c4a" opacity="0.43"/>
<circle cx="297.07" cy="816.55" r="0.53" fill="#b49a72" opacity="0.54"/>
<circle cx="343.80" cy="776.28" r="0.57" fill="#a88a62" opacity="0.52"/>
<circle cx="319.69" cy="827.50" r="0.65" fill="#9a7a55" opacity="0.50"/>
<circle cx="294.22" cy="789.97" r="0.78" fill="#9a7a55" opacity="0.48"/>
<circle cx="316.62" cy="771.48" r="0.83" fill="#8a6c4a" opacity="0.52"/>
<circle cx="303.70" cy="820.51" r="0.58" fill="#8a6c4a" opacity="0.42"/>
<circle cx="304.23" cy="816.82" r="0.43" fill="#b49a72" opacity="0.43"/>
<circle cx="343.62" cy="766.51" r="0.61" fill="#b49a72" opacity="0.55"/>
<circle cx="310.76" cy="842.70" r="0.43" fill="#b49a72" opacity="0.47"/>
<circle cx="318.51" cy="829.32" r="0.73" fill="#b49a72" opacity="0.49"/>
<circle cx="360.90" cy="787.61" r="0.57" fill="#b49a72" opacity="0.34"/>
<circle cx="338.91" cy="802.45" r="0.71" fill="#b49a72" opacity="0.60"/>
<circle cx="280.46" cy="796.49" r="1.08" fill="#8a6a4a" opacity="0.20"/>
<circle cx="280.46" cy="796.49" r="0.73" fill="#3a2c22" opacity="0.88"/>
<circle cx="292.96" cy="789.10" r="1.19" fill="#8a6a4a" opacity="0.23"/>
<circle cx="292.96" cy="789.10" r="0.84" fill="#332a26" opacity="0.92"/>
<circle cx="310.76" cy="806.91" r="0.86" fill="#8a6a4a" opacity="0.18"/>
<circle cx="310.76" cy="806.91" r="0.51" fill="#4a3a2a" opacity="0.98"/>
<circle cx="333.31" cy="820.30" r="1.22" fill="#8a6a4a" opacity="0.20"/>
<circle cx="333.31" cy="820.30" r="0.87" fill="#332a26" opacity="0.98"/>
<circle cx="323.05" cy="768.52" r="1.04" fill="#8a6a4a" opacity="0.21"/>
<circle cx="323.05" cy="768.52" r="0.69" fill="#4a3a2a" opacity="0.76"/>
<circle cx="288.60" cy="799.01" r="0.89" fill="#8a6a4a" opacity="0.30"/>
<circle cx="288.60" cy="799.01" r="0.54" fill="#332a26" opacity="0.85"/>
<circle cx="340.63" cy="780.52" r="0.88" fill="#8a6a4a" opacity="0.28"/>
<circle cx="340.63" cy="780.52" r="0.53" fill="#2a2018" opacity="0.76"/>
<circle cx="354.43" cy="770.15" r="0.88" fill="#8a6a4a" opacity="0.29"/>
<circle cx="354.43" cy="770.15" r="0.53" fill="#3a2c22" opacity="0.87"/>
<circle cx="335.10" cy="817.55" r="0.89" fill="#8a6a4a" opacity="0.28"/>
<circle cx="335.10" cy="817.55" r="0.54" fill="#3a2c22" opacity="0.94"/>
<circle cx="339.35" cy="805.08" r="0.89" fill="#8a6a4a" opacity="0.16"/>
<circle cx="339.35" cy="805.08" r="0.54" fill="#2a2018" opacity="0.85"/>
<circle cx="336.34" cy="776.67" r="1.11" fill="#8a6a4a" opacity="0.16"/>
<circle cx="336.34" cy="776.67" r="0.76" fill="#332a26" opacity="0.82"/>
<circle cx="299.32" cy="830.63" r="1.16" fill="#8a6a4a" opacity="0.30"/>
<circle cx="299.32" cy="830.63" r="0.81" fill="#332a26" opacity="0.99"/>
<circle cx="299.65" cy="776.76" r="1.09" fill="#8a6a4a" opacity="0.25"/>
<circle cx="299.65" cy="776.76" r="0.74" fill="#3a2c22" opacity="0.87"/>
<circle cx="340.67" cy="798.29" r="0.85" fill="#8a6a4a" opacity="0.27"/>
<circle cx="340.67" cy="798.29" r="0.50" fill="#2a2018" opacity="0.91"/>
<circle cx="273.57" cy="803.01" r="1.15" fill="#8a6a4a" opacity="0.28"/>
<circle cx="273.57" cy="803.01" r="0.80" fill="#2a2018" opacity="0.80"/>
<circle cx="343.54" cy="780.32" r="1.15" fill="#8a6a4a" opacity="0.26"/>
<circle cx="343.54" cy="780.32" r="0.80" fill="#3a2c22" opacity="0.89"/>
<circle cx="296.81" cy="810.10" r="0.80" fill="#8a6a4a" opacity="0.18"/>
<circle cx="296.81" cy="810.10" r="0.45" fill="#3a2c22" opacity="0.91"/>
<circle cx="291.43" cy="822.85" r="1.15" fill="#8a6a4a" opacity="0.19"/>
<circle cx="291.43" cy="822.85" r="0.80" fill="#2a2018" opacity="0.93"/>
<circle cx="312.69" cy="823.21" r="0.87" fill="#8a6a4a" opacity="0.21"/>
<circle cx="312.69" cy="823.21" r="0.52" fill="#2a2018" opacity="0.76"/>
<circle cx="304.47" cy="816.62" r="0.88" fill="#8a6a4a" opacity="0.29"/>
<circle cx="304.47" cy="816.62" r="0.53" fill="#4a3a2a" opacity="0.75"/>
<circle cx="332.12" cy="830.27" r="0.92" fill="#8a6a4a" opacity="0.17"/>
<circle cx="332.12" cy="830.27" r="0.57" fill="#3a2c22" opacity="0.78"/>
<circle cx="316.90" cy="806.63" r="1.01" fill="#8a6a4a" opacity="0.17"/>
<circle cx="316.90" cy="806.63" r="0.66" fill="#2a2018" opacity="0.88"/>
<circle cx="303.67" cy="780.04" r="0.89" fill="#8a6a4a" opacity="0.17"/>
<circle cx="303.67" cy="780.04" r="0.54" fill="#3a2c22" opacity="0.93"/>
<circle cx="320.86" cy="783.34" r="0.85" fill="#8a6a4a" opacity="0.16"/>
<circle cx="320.86" cy="783.34" r="0.50" fill="#3a2c22" opacity="0.92"/>
<circle cx="289.58" cy="823.45" r="0.92" fill="#8a6a4a" opacity="0.15"/>
<circle cx="289.58" cy="823.45" r="0.57" fill="#332a26" opacity="0.91"/>
<circle cx="277.32" cy="809.29" r="1.10" fill="#8a6a4a" opacity="0.18"/>
<circle cx="277.32" cy="809.29" r="0.75" fill="#3a2c22" opacity="0.90"/>
<circle cx="346.38" cy="820.37" r="0.91" fill="#8a6a4a" opacity="0.24"/>
<circle cx="346.38" cy="820.37" r="0.56" fill="#2a2018" opacity="0.76"/>
<circle cx="329.41" cy="818.88" r="0.95" fill="#8a6a4a" opacity="0.27"/>
<circle cx="329.41" cy="818.88" r="0.60" fill="#332a26" opacity="0.90"/>
<circle cx="281.26" cy="804.70" r="1.16" fill="#8a6a4a" opacity="0.27"/>
<circle cx="281.26" cy="804.70" r="0.81" fill="#3a2c22" opacity="0.80"/>
<circle cx="368.22" cy="826.72" r="1.02" fill="#8a6a4a" opacity="0.27"/>
<circle cx="368.22" cy="826.72" r="0.67" fill="#2a2018" opacity="0.94"/>
<circle cx="331.27" cy="780.14" r="1.18" fill="#8a6a4a" opacity="0.27"/>
<circle cx="331.27" cy="780.14" r="0.83" fill="#2a2018" opacity="0.91"/>
<circle cx="365.57" cy="810.31" r="1.02" fill="#8a6a4a" opacity="0.27"/>
<circle cx="365.57" cy="810.31" r="0.67" fill="#332a26" opacity="0.78"/>
<circle cx="350.93" cy="838.16" r="1.14" fill="#8a6a4a" opacity="0.27"/>
<circle cx="350.93" cy="838.16" r="0.79" fill="#3a2c22" opacity="0.86"/>
<circle cx="350.60" cy="826.16" r="0.93" fill="#8a6a4a" opacity="0.29"/>
<circle cx="350.60" cy="826.16" r="0.58" fill="#2a2018" opacity="0.77"/>
<circle cx="346.30" cy="827.56" r="1.18" fill="#8a6a4a" opacity="0.19"/>
<circle cx="346.30" cy="827.56" r="0.83" fill="#332a26" opacity="0.89"/>
<circle cx="357.19" cy="768.45" r="0.98" fill="#8a6a4a" opacity="0.24"/>
<circle cx="357.19" cy="768.45" r="0.63" fill="#4a3a2a" opacity="0.96"/>
<circle cx="351.73" cy="791.19" r="1.18" fill="#8a6a4a" opacity="0.27"/>
<circle cx="351.73" cy="791.19" r="0.83" fill="#2a2018" opacity="0.83"/>
<circle cx="327.93" cy="839.25" r="1.01" fill="#8a6a4a" opacity="0.21"/>
<circle cx="327.93" cy="839.25" r="0.66" fill="#4a3a2a" opacity="0.86"/>
<circle cx="300.45" cy="781.29" r="1.18" fill="#8a6a4a" opacity="0.24"/>
<circle cx="300.45" cy="781.29" r="0.83" fill="#4a3a2a" opacity="0.83"/>
<circle cx="307.82" cy="806.80" r="0.90" fill="#8a6a4a" opacity="0.24"/>
<circle cx="307.82" cy="806.80" r="0.55" fill="#332a26" opacity="0.96"/>
<circle cx="328.59" cy="834.76" r="1.02" fill="#8a6a4a" opacity="0.29"/>
<circle cx="328.59" cy="834.76" r="0.67" fill="#3a2c22" opacity="0.96"/>
<circle cx="365.25" cy="795.23" r="1.18" fill="#8a6a4a" opacity="0.17"/>
<circle cx="365.25" cy="795.23" r="0.83" fill="#3a2c22" opacity="0.86"/>
<circle cx="348.98" cy="784.21" r="0.85" fill="#8a6a4a" opacity="0.23"/>
<circle cx="348.98" cy="784.21" r="0.50" fill="#332a26" opacity="0.78"/>
<circle cx="343.24" cy="784.41" r="1.03" fill="#8a6a4a" opacity="0.20"/>
<circle cx="343.24" cy="784.41" r="0.68" fill="#4a3a2a" opacity="0.99"/>
<circle cx="359.00" cy="803.65" r="1.24" fill="#8a6a4a" opacity="0.16"/>
<circle cx="359.00" cy="803.65" r="0.89" fill="#2a2018" opacity="0.89"/>
<circle cx="340.74" cy="823.44" r="0.95" fill="#8a6a4a" opacity="0.17"/>
<circle cx="340.74" cy="823.44" r="0.60" fill="#4a3a2a" opacity="0.79"/>
<circle cx="326.26" cy="809.83" r="0.98" fill="#8a6a4a" opacity="0.26"/>
<circle cx="326.26" cy="809.83" r="0.63" fill="#4a3a2a" opacity="0.91"/>
<circle cx="290.85" cy="825.25" r="1.05" fill="#8a6a4a" opacity="0.21"/>
<circle cx="290.85" cy="825.25" r="0.70" fill="#2a2018" opacity="0.95"/>
<circle cx="338.77" cy="818.80" r="0.87" fill="#8a6a4a" opacity="0.24"/>
<circle cx="338.77" cy="818.80" r="0.52" fill="#2a2018" opacity="0.95"/>
<circle cx="355.95" cy="777.24" r="0.88" fill="#8a6a4a" opacity="0.20"/>
<circle cx="355.95" cy="777.24" r="0.53" fill="#2a2018" opacity="0.90"/>
<circle cx="365.58" cy="825.58" r="1.11" fill="#8a6a4a" opacity="0.19"/>
<circle cx="365.58" cy="825.58" r="0.76" fill="#332a26" opacity="0.80"/>
<circle cx="298.96" cy="798.95" r="0.92" fill="#8a6a4a" opacity="0.21"/>
<circle cx="298.96" cy="798.95" r="0.57" fill="#332a26" opacity="0.95"/>
<circle cx="329.87" cy="803.90" r="0.87" fill="#8a6a4a" opacity="0.28"/>
<circle cx="329.87" cy="803.90" r="0.52" fill="#2a2018" opacity="0.79"/>
<circle cx="343.62" cy="801.46" r="1.10" fill="#8a6a4a" opacity="0.26"/>
<circle cx="343.62" cy="801.46" r="0.75" fill="#4a3a2a" opacity="0.85"/>
<circle cx="339.55" cy="795.59" r="1.18" fill="#8a6a4a" opacity="0.17"/>
<circle cx="339.55" cy="795.59" r="0.83" fill="#332a26" opacity="0.94"/>
<circle cx="302.31" cy="838.38" r="0.91" fill="#8a6a4a" opacity="0.16"/>
<circle cx="302.31" cy="838.38" r="0.56" fill="#2a2018" opacity="0.94"/>
<circle cx="335.53" cy="796.94" r="0.85" fill="#8a6a4a" opacity="0.20"/>
<circle cx="335.53" cy="796.94" r="0.50" fill="#3a2c22" opacity="0.99"/>
<circle cx="331.01" cy="818.89" r="0.98" fill="#8a6a4a" opacity="0.29"/>
<circle cx="331.01" cy="818.89" r="0.63" fill="#4a3a2a" opacity="0.85"/>
<circle cx="339.03" cy="775.77" r="0.99" fill="#8a6a4a" opacity="0.29"/>
<circle cx="339.03" cy="775.77" r="0.64" fill="#4a3a2a" opacity="0.78"/>
<circle cx="317.52" cy="831.46" r="1.06" fill="#8a6a4a" opacity="0.21"/>
<circle cx="317.52" cy="831.46" r="0.71" fill="#4a3a2a" opacity="0.95"/>
<circle cx="335.68" cy="831.54" r="0.90" fill="#8a6a4a" opacity="0.28"/>
<circle cx="335.68" cy="831.54" r="0.55" fill="#3a2c22" opacity="0.88"/>
<circle cx="358.09" cy="835.15" r="1.17" fill="#8a6a4a" opacity="0.25"/>
<circle cx="358.09" cy="835.15" r="0.82" fill="#4a3a2a" opacity="0.78"/>
<circle cx="338.20" cy="819.82" r="0.92" fill="#8a6a4a" opacity="0.16"/>
<circle cx="338.20" cy="819.82" r="0.57" fill="#4a3a2a" opacity="0.90"/>
<circle cx="358.66" cy="788.81" r="1.06" fill="#8a6a4a" opacity="0.28"/>
<circle cx="358.66" cy="788.81" r="0.71" fill="#2a2018" opacity="0.84"/>
<circle cx="280.31" cy="786.12" r="1.00" fill="#8a6a4a" opacity="0.23"/>
<circle cx="280.31" cy="786.12" r="0.65" fill="#2a2018" opacity="0.76"/>
<circle cx="350.82" cy="773.19" r="1.08" fill="#8a6a4a" opacity="0.20"/>
<circle cx="350.82" cy="773.19" r="0.73" fill="#4a3a2a" opacity="0.88"/>
<circle cx="339.12" cy="782.03" r="1.16" fill="#8a6a4a" opacity="0.19"/>
<circle cx="339.12" cy="782.03" r="0.81" fill="#4a3a2a" opacity="0.77"/>
<circle cx="330.61" cy="821.45" r="0.98" fill="#8a6a4a" opacity="0.23"/>
<circle cx="330.61" cy="821.45" r="0.63" fill="#332a26" opacity="0.81"/>
<circle cx="354.95" cy="842.76" r="1.23" fill="#8a6a4a" opacity="0.20"/>
<circle cx="354.95" cy="842.76" r="0.88" fill="#4a3a2a" opacity="0.77"/>
<circle cx="315.03" cy="775.01" r="1.11" fill="#8a6a4a" opacity="0.26"/>
<circle cx="315.03" cy="775.01" r="0.76" fill="#332a26" opacity="0.80"/>
<circle cx="329.15" cy="773.29" r="1.14" fill="#8a6a4a" opacity="0.16"/>
<circle cx="329.15" cy="773.29" r="0.79" fill="#2a2018" opacity="0.86"/>
<circle cx="286.34" cy="819.81" r="0.92" fill="#8a6a4a" opacity="0.23"/>
<circle cx="286.34" cy="819.81" r="0.57" fill="#4a3a2a" opacity="0.94"/>
<circle cx="363.21" cy="836.81" r="1.12" fill="#8a6a4a" opacity="0.16"/>
<circle cx="363.21" cy="836.81" r="0.77" fill="#3a2c22" opacity="0.85"/>
<circle cx="351.65" cy="814.93" r="1.04" fill="#8a6a4a" opacity="0.23"/>
<circle cx="351.65" cy="814.93" r="0.69" fill="#3a2c22" opacity="0.89"/>
<circle cx="298.43" cy="792.37" r="1.13" fill="#8a6a4a" opacity="0.25"/>
<circle cx="298.43" cy="792.37" r="0.78" fill="#332a26" opacity="0.97"/>
</g>
<rect x="265.60" y="841.20" width="24.50" height="2.30" fill="#1e1e1e"/>
</g>
<text x="265.38" y="775.70" font-size="10.40" stroke="#111" stroke-width="0.28" textLength="66.43" lengthAdjust="spacingAndGlyphs">Dato-DXd_3d</text>
<g clip-path="url(#hc5)">
<rect x="375.20" y="763.00" width="107.10" height="81.60" fill="#e8e9ed"/>
<rect x="375.20" y="763.00" width="107.10" height="81.60" fill="#fff" filter="url(#hb5)"/>
<rect x="375.20" y="763.00" width="107.10" height="81.60" fill="#fff" filter="url(#hd5)"/>
<rect x="375.20" y="763.00" width="107.10" height="81.60" fill="#fff" filter="url(#hf5)"/>
<rect x="375.20" y="763.00" width="107.10" height="81.60" fill="#fff" filter="url(#hw5)"/>
<g filter="url(#soft)">
<circle cx="460.45" cy="800.27" r="0.45" fill="#a88a62" opacity="0.43"/>
<circle cx="468.75" cy="802.70" r="0.55" fill="#8a6c4a" opacity="0.47"/>
<circle cx="462.26" cy="774.59" r="0.65" fill="#b49a72" opacity="0.37"/>
<circle cx="422.17" cy="822.07" r="0.77" fill="#b49a72" opacity="0.35"/>
<circle cx="378.04" cy="781.32" r="0.57" fill="#9a7a55" opacity="0.58"/>
<circle cx="466.07" cy="791.10" r="0.61" fill="#a88a62" opacity="0.30"/>
<circle cx="386.91" cy="833.48" r="0.60" fill="#b49a72" opacity="0.57"/>
<circle cx="436.05" cy="821.03" r="0.48" fill="#a88a62" opacity="0.55"/>
<circle cx="425.58" cy="833.72" r="0.45" fill="#b49a72" opacity="0.51"/>
<circle cx="462.46" cy="814.32" r="0.42" fill="#9a7a55" opacity="0.62"/>
<circle cx="397.53" cy="764.57" r="0.58" fill="#a88a62" opacity="0.57"/>
<circle cx="381.30" cy="808.22" r="0.59" fill="#9a7a55" opacity="0.35"/>
<circle cx="378.60" cy="824.01" r="0.84" fill="#9a7a55" opacity="0.37"/>
<circle cx="460.72" cy="777.30" r="0.45" fill="#b49a72" opacity="0.62"/>
<circle cx="376.94" cy="831.42" r="0.77" fill="#9a7a55" opacity="0.55"/>
<circle cx="445.56" cy="812.85" r="0.70" fill="#a88a62" opacity="0.31"/>
<circle cx="463.07" cy="828.29" r="0.45" fill="#a88a62" opacity="0.54"/>
<circle cx="479.06" cy="812.66" r="0.63" fill="#9a7a55" opacity="0.33"/>
<circle cx="386.05" cy="786.04" r="0.53" fill="#b49a72" opacity="0.51"/>
<circle cx="478.57" cy="824.93" r="0.43" fill="#9a7a55" opacity="0.54"/>
<circle cx="456.58" cy="781.31" r="0.84" fill="#a88a62" opacity="0.62"/>
<circle cx="463.85" cy="820.83" r="0.71" fill="#b49a72" opacity="0.58"/>
<circle cx="382.41" cy="813.13" r="0.51" fill="#a88a62" opacity="0.39"/>
<circle cx="407.99" cy="791.89" r="0.44" fill="#b49a72" opacity="0.36"/>
<circle cx="475.25" cy="816.05" r="0.68" fill="#8a6c4a" opacity="0.40"/>
<circle cx="402.70" cy="796.92" r="0.50" fill="#8a6c4a" opacity="0.62"/>
<circle cx="410.92" cy="825.05" r="0.80" fill="#9a7a55" opacity="0.49"/>
<circle cx="387.62" cy="829.38" r="0.68" fill="#8a6c4a" opacity="0.32"/>
<circle cx="389.39" cy="800.50" r="0.42" fill="#a88a62" opacity="0.63"/>
<circle cx="419.12" cy="836.32" r="0.84" fill="#9a7a55" opacity="0.53"/>
<circle cx="399.40" cy="823.85" r="0.72" fill="#b49a72" opacity="0.55"/>
<circle cx="479.73" cy="778.36" r="0.71" fill="#8a6c4a" opacity="0.56"/>
<circle cx="402.57" cy="784.71" r="0.71" fill="#a88a62" opacity="0.52"/>
<circle cx="441.06" cy="816.06" r="0.46" fill="#9a7a55" opacity="0.51"/>
<circle cx="449.04" cy="788.39" r="0.43" fill="#9a7a55" opacity="0.33"/>
<circle cx="384.45" cy="808.30" r="0.69" fill="#8a6c4a" opacity="0.62"/>
<circle cx="423.55" cy="835.23" r="0.58" fill="#a88a62" opacity="0.46"/>
<circle cx="412.34" cy="829.92" r="0.77" fill="#a88a62" opacity="0.34"/>
<circle cx="398.44" cy="792.07" r="0.68" fill="#a88a62" opacity="0.33"/>
<circle cx="386.02" cy="826.00" r="0.54" fill="#8a6c4a" opacity="0.36"/>
<circle cx="416.57" cy="815.77" r="0.50" fill="#9a7a55" opacity="0.40"/>
<circle cx="404.63" cy="837.66" r="0.56" fill="#a88a62" opacity="0.35"/>
<circle cx="458.73" cy="784.28" r="0.64" fill="#9a7a55" opacity="0.61"/>
<circle cx="469.00" cy="824.44" r="0.51" fill="#b49a72" opacity="0.39"/>
<circle cx="377.48" cy="772.33" r="0.57" fill="#8a6c4a" opacity="0.31"/>
<circle cx="422.33" cy="773.61" r="0.72" fill="#9a7a55" opacity="0.44"/>
<circle cx="427.18" cy="837.05" r="0.59" fill="#9a7a55" opacity="0.34"/>
<circle cx="383.77" cy="792.89" r="0.82" fill="#9a7a55" opacity="0.33"/>
<circle cx="399.85" cy="823.00" r="0.79" fill="#b49a72" opacity="0.34"/>
<circle cx="474.94" cy="805.75" r="0.48" fill="#8a6c4a" opacity="0.37"/>
<circle cx="424.68" cy="821.98" r="0.60" fill="#8a6c4a" opacity="0.33"/>
<circle cx="405.91" cy="826.52" r="0.72" fill="#b49a72" opacity="0.47"/>
<circle cx="430.28" cy="766.42" r="0.73" fill="#a88a62" opacity="0.57"/>
<circle cx="445.87" cy="775.45" r="0.57" fill="#8a6c4a" opacity="0.56"/>
<circle cx="395.62" cy="782.33" r="0.81" fill="#9a7a55" opacity="0.46"/>
<circle cx="464.07" cy="788.43" r="0.49" fill="#9a7a55" opacity="0.44"/>
<circle cx="400.97" cy="802.00" r="0.83" fill="#b49a72" opacity="0.54"/>
<circle cx="398.80" cy="835.71" r="0.61" fill="#8a6c4a" opacity="0.65"/>
<circle cx="410.20" cy="796.49" r="0.70" fill="#9a7a55" opacity="0.50"/>
<circle cx="392.82" cy="828.30" r="0.61" fill="#b49a72" opacity="0.35"/>
<circle cx="392.23" cy="775.27" r="0.66" fill="#9a7a55" opacity="0.36"/>
<circle cx="458.94" cy="784.40" r="0.50" fill="#a88a62" opacity="0.63"/>
<circle cx="404.70" cy="838.54" r="0.42" fill="#9a7a55" opacity="0.64"/>
<circle cx="394.94" cy="775.38" r="0.57" fill="#8a6c4a" opacity="0.58"/>
<circle cx="444.72" cy="804.81" r="0.51" fill="#8a6c4a" opacity="0.61"/>
<circle cx="476.88" cy="779.65" r="0.80" fill="#b49a72" opacity="0.36"/>
<circle cx="448.75" cy="784.59" r="0.56" fill="#8a6c4a" opacity="0.54"/>
<circle cx="384.34" cy="822.76" r="0.61" fill="#8a6c4a" opacity="0.58"/>
<circle cx="377.70" cy="801.86" r="0.72" fill="#a88a62" opacity="0.46"/>
<circle cx="410.46" cy="840.84" r="0.44" fill="#a88a62" opacity="0.49"/>
<circle cx="415.30" cy="820.17" r="0.62" fill="#8a6c4a" opacity="0.34"/>
<circle cx="399.87" cy="781.39" r="0.42" fill="#a88a62" opacity="0.61"/>
<circle cx="440.82" cy="815.30" r="0.60" fill="#8a6c4a" opacity="0.50"/>
<circle cx="413.73" cy="819.87" r="0.48" fill="#b49a72" opacity="0.54"/>
<circle cx="447.12" cy="825.89" r="0.45" fill="#8a6c4a" opacity="0.59"/>
<circle cx="443.54" cy="814.38" r="0.83" fill="#a88a62" opacity="0.43"/>
<circle cx="465.21" cy="815.49" r="0.43" fill="#b49a72" opacity="0.60"/>
<circle cx="467.80" cy="810.78" r="0.41" fill="#b49a72" opacity="0.55"/>
<circle cx="405.06" cy="770.01" r="0.48" fill="#a88a62" opacity="0.30"/>
<circle cx="479.47" cy="766.02" r="0.82" fill="#a88a62" opacity="0.35"/>
<circle cx="411.61" cy="805.55" r="0.59" fill="#b49a72" opacity="0.61"/>
<circle cx="411.37" cy="837.38" r="0.52" fill="#9a7a55" opacity="0.52"/>
<circle cx="452.57" cy="791.36" r="0.48" fill="#9a7a55" opacity="0.56"/>
<circle cx="464.03" cy="797.73" r="0.41" fill="#8a6c4a" opacity="0.58"/>
<circle cx="460.19" cy="771.90" r="0.49" fill="#b49a72" opacity="0.58"/>
<circle cx="459.07" cy="782.68" r="0.70" fill="#b49a72" opacity="0.35"/>
<circle cx="396.76" cy="810.28" r="0.69" fill="#a88a62" opacity="0.56"/>
<circle cx="428.89" cy="805.52" r="0.43" fill="#a88a62" opacity="0.55"/>
<circle cx="399.70" cy="787.36" r="0.71" fill="#a88a62" opacity="0.62"/>
<circle cx="398.00" cy="788.96" r="0.52" fill="#a88a62" opacity="0.32"/>
<circle cx="447.61" cy="819.67" r="0.58" fill="#8a6c4a" opacity="0.32"/>
<circle cx="440.12" cy="771.51" r="0.63" fill="#a88a62" opacity="0.36"/>
<circle cx="442.22" cy="783.77" r="0.54" fill="#8a6c4a" opacity="0.54"/>
<circle cx="426.30" cy="788.93" r="0.70" fill="#b49a72" opacity="0.45"/>
<circle cx="383.64" cy="827.66" r="0.60" fill="#b49a72" opacity="0.63"/>
<circle cx="420.26" cy="819.93" r="0.75" fill="#8a6c4a" opacity="0.52"/>
<circle cx="387.63" cy="800.32" r="0.53" fill="#9a7a55" opacity="0.60"/>
<circle cx="474.91" cy="808.32" r="0.71" fill="#9a7a55" opacity="0.40"/>
<circle cx="383.84" cy="823.50" r="0.60" fill="#9a7a55" opacity="0.35"/>
<circle cx="449.30" cy="820.77" r="0.41" fill="#a88a62" opacity="0.49"/>
<circle cx="439.54" cy="796.44" r="0.57" fill="#b49a72" opacity="0.55"/>
<circle cx="414.43" cy="834.54" r="0.65" fill="#9a7a55" opacity="0.39"/>
<circle cx="453.80" cy="834.59" r="0.61" fill="#a88a62" opacity="0.51"/>
<circle cx="406.75" cy="801.07" r="0.73" fill="#a88a62" opacity="0.56"/>
<circle cx="430.11" cy="827.55" r="0.63" fill="#a88a62" opacity="0.64"/>
<circle cx="465.05" cy="818.15" r="0.43" fill="#9a7a55" opacity="0.60"/>
<circle cx="439.84" cy="835.19" r="0.55" fill="#8a6c4a" opacity="0.59"/>
<circle cx="404.39" cy="793.25" r="0.56" fill="#b49a72" opacity="0.40"/>
<circle cx="455.43" cy="825.00" r="0.81" fill="#9a7a55" opacity="0.65"/>
<circle cx="452.49" cy="823.83" r="0.51" fill="#8a6c4a" opacity="0.43"/>
<circle cx="464.11" cy="775.00" r="0.55" fill="#9a7a55" opacity="0.42"/>
<circle cx="464.55" cy="831.14" r="0.46" fill="#9a7a55" opacity="0.58"/>
<circle cx="464.42" cy="841.46" r="0.61" fill="#b49a72" opacity="0.57"/>
<circle cx="467.25" cy="781.33" r="0.51" fill="#9a7a55" opacity="0.34"/>
<circle cx="469.00" cy="835.48" r="0.57" fill="#9a7a55" opacity="0.47"/>
<circle cx="382.17" cy="832.09" r="0.54" fill="#b49a72" opacity="0.63"/>
<circle cx="425.68" cy="835.21" r="0.54" fill="#8a6c4a" opacity="0.50"/>
<circle cx="430.68" cy="802.54" r="0.80" fill="#a88a62" opacity="0.37"/>
<circle cx="380.33" cy="810.94" r="0.72" fill="#b49a72" opacity="0.65"/>
<circle cx="395.83" cy="787.37" r="0.74" fill="#9a7a55" opacity="0.38"/>
<circle cx="454.24" cy="827.52" r="0.80" fill="#b49a72" opacity="0.36"/>
<circle cx="443.01" cy="770.55" r="0.55" fill="#8a6c4a" opacity="0.48"/>
<circle cx="477.94" cy="803.11" r="0.40" fill="#a88a62" opacity="0.51"/>
<circle cx="416.05" cy="829.87" r="0.47" fill="#9a7a55" opacity="0.62"/>
<circle cx="434.10" cy="824.20" r="0.56" fill="#9a7a55" opacity="0.37"/>
<circle cx="470.44" cy="839.56" r="0.82" fill="#a88a62" opacity="0.35"/>
<circle cx="442.39" cy="827.65" r="0.67" fill="#8a6c4a" opacity="0.51"/>
<circle cx="401.04" cy="781.51" r="0.42" fill="#9a7a55" opacity="0.58"/>
<circle cx="478.30" cy="821.21" r="0.61" fill="#a88a62" opacity="0.40"/>
<circle cx="463.97" cy="837.21" r="0.82" fill="#b49a72" opacity="0.60"/>
<circle cx="467.12" cy="835.06" r="0.59" fill="#8a6c4a" opacity="0.46"/>
<circle cx="443.19" cy="842.91" r="0.74" fill="#a88a62" opacity="0.65"/>
<circle cx="400.40" cy="832.83" r="0.60" fill="#8a6c4a" opacity="0.36"/>
<circle cx="399.45" cy="771.18" r="0.54" fill="#8a6c4a" opacity="0.36"/>
<circle cx="427.32" cy="838.76" r="0.49" fill="#a88a62" opacity="0.48"/>
<circle cx="400.95" cy="792.15" r="0.43" fill="#9a7a55" opacity="0.42"/>
<circle cx="420.96" cy="792.17" r="0.58" fill="#a88a62" opacity="0.46"/>
<circle cx="463.58" cy="807.57" r="0.75" fill="#b49a72" opacity="0.42"/>
<circle cx="442.28" cy="836.83" r="0.59" fill="#8a6c4a" opacity="0.35"/>
<circle cx="444.61" cy="823.18" r="0.71" fill="#8a6c4a" opacity="0.54"/>
<circle cx="418.21" cy="790.17" r="0.50" fill="#a88a62" opacity="0.49"/>
<circle cx="418.60" cy="778.84" r="0.80" fill="#9a7a55" opacity="0.52"/>
<circle cx="460.66" cy="799.15" r="0.63" fill="#9a7a55" opacity="0.42"/>
<circle cx="432.08" cy="837.55" r="0.61" fill="#8a6c4a" opacity="0.39"/>
<circle cx="378.44" cy="827.38" r="0.76" fill="#9a7a55" opacity="0.40"/>
<circle cx="411.30" cy="829.07" r="0.71" fill="#9a7a55" opacity="0.33"/>
<circle cx="398.53" cy="822.41" r="0.54" fill="#a88a62" opacity="0.32"/>
<circle cx="404.17" cy="822.15" r="0.81" fill="#a88a62" opacity="0.49"/>
<circle cx="466.08" cy="794.82" r="0.79" fill="#a88a62" opacity="0.51"/>
<circle cx="478.38" cy="767.49" r="0.46" fill="#9a7a55" opacity="0.41"/>
<circle cx="448.99" cy="777.74" r="0.45" fill="#a88a62" opacity="0.51"/>
<circle cx="446.71" cy="840.71" r="0.84" fill="#b49a72" opacity="0.41"/>
<circle cx="419.28" cy="799.57" r="0.41" fill="#a88a62" opacity="0.36"/>
<circle cx="469.64" cy="826.88" r="0.69" fill="#b49a72" opacity="0.49"/>
<circle cx="447.56" cy="767.14" r="0.76" fill="#9a7a55" opacity="0.46"/>
<circle cx="468.45" cy="811.74" r="0.58" fill="#a88a62" opacity="0.60"/>
<circle cx="471.93" cy="808.58" r="0.48" fill="#b49a72" opacity="0.35"/>
<circle cx="449.75" cy="838.28" r="0.56" fill="#a88a62" opacity="0.50"/>
<circle cx="476.17" cy="837.51" r="0.54" fill="#b49a72" opacity="0.37"/>
<circle cx="410.67" cy="815.00" r="0.76" fill="#8a6c4a" opacity="0.36"/>
<circle cx="465.98" cy="802.92" r="0.82" fill="#9a7a55" opacity="0.47"/>
<circle cx="462.96" cy="768.15" r="0.44" fill="#b49a72" opacity="0.62"/>
<circle cx="385.78" cy="825.58" r="0.52" fill="#9a7a55" opacity="0.51"/>
<circle cx="422.02" cy="833.87" r="0.44" fill="#b49a72" opacity="0.53"/>
<circle cx="386.86" cy="803.32" r="0.50" fill="#8a6c4a" opacity="0.40"/>
<circle cx="415.27" cy="836.81" r="0.85" fill="#b49a72" opacity="0.57"/>
<circle cx="448.81" cy="815.39" r="0.69" fill="#8a6c4a" opacity="0.44"/>
<circle cx="475.60" cy="801.66" r="0.74" fill="#a88a62" opacity="0.58"/>
<circle cx="453.42" cy="838.19" r="0.78" fill="#a88a62" opacity="0.39"/>
<circle cx="429.41" cy="799.46" r="0.44" fill="#9a7a55" opacity="0.38"/>
<circle cx="439.24" cy="833.36" r="0.53" fill="#a88a62" opacity="0.63"/>
<circle cx="443.87" cy="824.06" r="0.78" fill="#8a6c4a" opacity="0.42"/>
<circle cx="393.75" cy="837.59" r="0.75" fill="#8a6c4a" opacity="0.39"/>
<circle cx="408.13" cy="842.59" r="0.57" fill="#b49a72" opacity="0.37"/>
<circle cx="420.04" cy="801.41" r="0.43" fill="#b49a72" opacity="0.38"/>
<circle cx="434.38" cy="796.34" r="0.46" fill="#b49a72" opacity="0.46"/>
<circle cx="473.85" cy="808.77" r="0.62" fill="#8a6c4a" opacity="0.36"/>
<circle cx="478.89" cy="775.53" r="0.84" fill="#b49a72" opacity="0.50"/>
<circle cx="395.25" cy="825.06" r="0.61" fill="#8a6c4a" opacity="0.46"/>
<circle cx="397.29" cy="839.81" r="0.48" fill="#a88a62" opacity="0.51"/>
<circle cx="407.96" cy="840.68" r="0.84" fill="#9a7a55" opacity="0.45"/>
<circle cx="398.52" cy="770.07" r="0.70" fill="#a88a62" opacity="0.53"/>
<circle cx="447.30" cy="820.56" r="0.42" fill="#b49a72" opacity="0.33"/>
<circle cx="405.90" cy="834.86" r="0.63" fill="#8a6c4a" opacity="0.62"/>
<circle cx="438.07" cy="829.29" r="0.49" fill="#a88a62" opacity="0.62"/>
<circle cx="400.03" cy="781.05" r="0.66" fill="#8a6c4a" opacity="0.54"/>
<circle cx="416.69" cy="842.52" r="0.67" fill="#b49a72" opacity="0.34"/>
<circle cx="454.38" cy="785.75" r="0.56" fill="#9a7a55" opacity="0.63"/>
<circle cx="480.17" cy="842.60" r="0.69" fill="#a88a62" opacity="0.43"/>
<circle cx="415.22" cy="807.22" r="0.47" fill="#9a7a55" opacity="0.51"/>
<circle cx="460.07" cy="777.08" r="0.66" fill="#b49a72" opacity="0.44"/>
<circle cx="433.29" cy="765.69" r="0.59" fill="#a88a62" opacity="0.62"/>
<circle cx="377.30" cy="834.87" r="0.75" fill="#b49a72" opacity="0.51"/>
<circle cx="421.40" cy="801.94" r="0.84" fill="#9a7a55" opacity="0.46"/>
<circle cx="429.07" cy="837.10" r="0.48" fill="#9a7a55" opacity="0.39"/>
<circle cx="457.27" cy="823.80" r="0.44" fill="#8a6c4a" opacity="0.33"/>
<circle cx="457.79" cy="799.63" r="0.48" fill="#b49a72" opacity="0.41"/>
<circle cx="471.42" cy="820.01" r="0.47" fill="#9a7a55" opacity="0.47"/>
<circle cx="479.74" cy="822.26" r="0.77" fill="#9a7a55" opacity="0.40"/>
<circle cx="380.83" cy="768.25" r="0.74" fill="#a88a62" opacity="0.48"/>
<circle cx="394.20" cy="817.13" r="1.18" fill="#8a6a4a" opacity="0.16"/>
<circle cx="394.20" cy="817.13" r="0.83" fill="#332a26" opacity="0.75"/>
<circle cx="399.89" cy="795.81" r="0.89" fill="#8a6a4a" opacity="0.25"/>
<circle cx="399.89" cy="795.81" r="0.54" fill="#4a3a2a" opacity="0.83"/>
<circle cx="404.41" cy="817.21" r="1.05" fill="#8a6a4a" opacity="0.25"/>
<circle cx="404.41" cy="817.21" r="0.70" fill="#332a26" opacity="0.77"/>
<circle cx="385.53" cy="768.97" r="0.98" fill="#8a6a4a" opacity="0.24"/>
<circle cx="385.53" cy="768.97" r="0.63" fill="#332a26" opacity="0.88"/>
<circle cx="428.29" cy="828.07" r="1.32" fill="#8a6a4a" opacity="0.27"/>
<circle cx="428.29" cy="828.07" r="0.97" fill="#332a26" opacity="0.78"/>
<circle cx="383.69" cy="798.87" r="0.86" fill="#8a6a4a" opacity="0.18"/>
<circle cx="383.69" cy="798.87" r="0.51" fill="#2a2018" opacity="0.95"/>
<circle cx="419.03" cy="829.54" r="1.07" fill="#8a6a4a" opacity="0.18"/>
<circle cx="419.03" cy="829.54" r="0.72" fill="#3a2c22" opacity="0.77"/>
<circle cx="452.29" cy="832.47" r="0.93" fill="#8a6a4a" opacity="0.28"/>
<circle cx="452.29" cy="832.47" r="0.58" fill="#2a2018" opacity="0.78"/>
<circle cx="416.32" cy="817.28" r="0.87" fill="#8a6a4a" opacity="0.20"/>
<circle cx="416.32" cy="817.28" r="0.52" fill="#4a3a2a" opacity="1.00"/>
<circle cx="409.84" cy="835.94" r="1.28" fill="#8a6a4a" opacity="0.24"/>
<circle cx="409.84" cy="835.94" r="0.93" fill="#3a2c22" opacity="0.83"/>
<circle cx="397.95" cy="821.68" r="1.03" fill="#8a6a4a" opacity="0.23"/>
<circle cx="397.95" cy="821.68" r="0.68" fill="#3a2c22" opacity="0.90"/>
<circle cx="445.36" cy="774.61" r="1.06" fill="#8a6a4a" opacity="0.24"/>
<circle cx="445.36" cy="774.61" r="0.71" fill="#2a2018" opacity="0.88"/>
<circle cx="405.41" cy="825.03" r="1.24" fill="#8a6a4a" opacity="0.23"/>
<circle cx="405.41" cy="825.03" r="0.89" fill="#3a2c22" opacity="0.93"/>
<circle cx="467.44" cy="807.14" r="1.00" fill="#8a6a4a" opacity="0.27"/>
<circle cx="467.44" cy="807.14" r="0.65" fill="#2a2018" opacity="0.95"/>
<circle cx="426.94" cy="821.97" r="1.08" fill="#8a6a4a" opacity="0.20"/>
<circle cx="426.94" cy="821.97" r="0.73" fill="#4a3a2a" opacity="0.86"/>
<circle cx="385.67" cy="792.83" r="1.26" fill="#8a6a4a" opacity="0.30"/>
<circle cx="385.67" cy="792.83" r="0.91" fill="#332a26" opacity="0.91"/>
<circle cx="447.09" cy="814.43" r="0.99" fill="#8a6a4a" opacity="0.16"/>
<circle cx="447.09" cy="814.43" r="0.64" fill="#4a3a2a" opacity="0.85"/>
<circle cx="412.14" cy="801.62" r="1.22" fill="#8a6a4a" opacity="0.18"/>
<circle cx="412.14" cy="801.62" r="0.87" fill="#2a2018" opacity="0.84"/>
<circle cx="404.79" cy="802.79" r="1.30" fill="#8a6a4a" opacity="0.28"/>
<circle cx="404.79" cy="802.79" r="0.95" fill="#332a26" opacity="0.82"/>
<circle cx="450.90" cy="792.18" r="1.19" fill="#8a6a4a" opacity="0.19"/>
<circle cx="450.90" cy="792.18" r="0.84" fill="#2a2018" opacity="0.96"/>
<circle cx="469.42" cy="798.08" r="1.24" fill="#8a6a4a" opacity="0.21"/>
<circle cx="469.42" cy="798.08" r="0.89" fill="#2a2018" opacity="0.78"/>
<circle cx="479.59" cy="842.06" r="0.94" fill="#8a6a4a" opacity="0.27"/>
<circle cx="479.59" cy="842.06" r="0.59" fill="#4a3a2a" opacity="0.78"/>
<circle cx="410.12" cy="774.46" r="1.21" fill="#8a6a4a" opacity="0.18"/>
<circle cx="410.12" cy="774.46" r="0.86" fill="#3a2c22" opacity="0.82"/>
<circle cx="397.54" cy="831.73" r="0.97" fill="#8a6a4a" opacity="0.24"/>
<circle cx="397.54" cy="831.73" r="0.62" fill="#4a3a2a" opacity="0.78"/>
<circle cx="386.07" cy="800.67" r="1.07" fill="#8a6a4a" opacity="0.30"/>
<circle cx="386.07" cy="800.67" r="0.72" fill="#4a3a2a" opacity="0.75"/>
<circle cx="400.46" cy="790.59" r="1.18" fill="#8a6a4a" opacity="0.21"/>
<circle cx="400.46" cy="790.59" r="0.83" fill="#4a3a2a" opacity="0.90"/>
<circle cx="426.58" cy="842.08" r="1.04" fill="#8a6a4a" opacity="0.18"/>
<circle cx="426.58" cy="842.08" r="0.69" fill="#3a2c22" opacity="0.94"/>
<circle cx="464.37" cy="807.60" r="1.25" fill="#8a6a4a" opacity="0.17"/>
<circle cx="464.37" cy="807.60" r="0.90" fill="#4a3a2a" opacity="0.94"/>
<circle cx="454.56" cy="838.29" r="1.01" fill="#8a6a4a" opacity="0.28"/>
<circle cx="454.56" cy="838.29" r="0.66" fill="#2a2018" opacity="0.77"/>
<circle cx="470.91" cy="778.95" r="1.06" fill="#8a6a4a" opacity="0.22"/>
<circle cx="470.91" cy="778.95" r="0.71" fill="#4a3a2a" opacity="0.88"/>
<circle cx="478.91" cy="777.80" r="1.10" fill="#8a6a4a" opacity="0.21"/>
<circle cx="478.91" cy="777.80" r="0.75" fill="#3a2c22" opacity="0.81"/>
<circle cx="417.04" cy="831.14" r="1.13" fill="#8a6a4a" opacity="0.19"/>
<circle cx="417.04" cy="831.14" r="0.78" fill="#2a2018" opacity="0.90"/>
<circle cx="451.30" cy="830.79" r="1.34" fill="#8a6a4a" opacity="0.25"/>
<circle cx="451.30" cy="830.79" r="0.99" fill="#3a2c22" opacity="0.83"/>
<circle cx="464.67" cy="791.12" r="1.33" fill="#8a6a4a" opacity="0.20"/>
<circle cx="464.67" cy="791.12" r="0.98" fill="#332a26" opacity="0.75"/>
<circle cx="480.64" cy="780.04" r="1.03" fill="#8a6a4a" opacity="0.19"/>
<circle cx="480.64" cy="780.04" r="0.68" fill="#3a2c22" opacity="0.95"/>
<circle cx="424.30" cy="829.89" r="1.22" fill="#8a6a4a" opacity="0.15"/>
<circle cx="424.30" cy="829.89" r="0.87" fill="#3a2c22" opacity="0.97"/>
<circle cx="410.09" cy="796.06" r="1.12" fill="#8a6a4a" opacity="0.27"/>
<circle cx="410.09" cy="796.06" r="0.77" fill="#3a2c22" opacity="0.77"/>
<circle cx="428.93" cy="819.69" r="1.18" fill="#8a6a4a" opacity="0.28"/>
<circle cx="428.93" cy="819.69" r="0.83" fill="#4a3a2a" opacity="0.89"/>
<circle cx="390.65" cy="802.49" r="0.92" fill="#8a6a4a" opacity="0.20"/>
<circle cx="390.65" cy="802.49" r="0.57" fill="#3a2c22" opacity="0.89"/>
<circle cx="440.90" cy="825.80" r="0.96" fill="#8a6a4a" opacity="0.22"/>
<circle cx="440.90" cy="825.80" r="0.61" fill="#4a3a2a" opacity="0.89"/>
<circle cx="455.10" cy="793.11" r="1.33" fill="#8a6a4a" opacity="0.27"/>
<circle cx="455.10" cy="793.11" r="0.98" fill="#2a2018" opacity="0.77"/>
<circle cx="441.73" cy="811.03" r="1.11" fill="#8a6a4a" opacity="0.17"/>
<circle cx="441.73" cy="811.03" r="0.76" fill="#2a2018" opacity="0.79"/>
<circle cx="462.88" cy="805.43" r="1.30" fill="#8a6a4a" opacity="0.22"/>
<circle cx="462.88" cy="805.43" r="0.95" fill="#332a26" opacity="0.88"/>
<circle cx="411.97" cy="766.55" r="0.88" fill="#8a6a4a" opacity="0.16"/>
<circle cx="411.97" cy="766.55" r="0.53" fill="#2a2018" opacity="0.76"/>
<circle cx="449.70" cy="817.29" r="1.22" fill="#8a6a4a" opacity="0.16"/>
<circle cx="449.70" cy="817.29" r="0.87" fill="#3a2c22" opacity="1.00"/>
<circle cx="422.52" cy="827.05" r="1.31" fill="#8a6a4a" opacity="0.27"/>
<circle cx="422.52" cy="827.05" r="0.96" fill="#4a3a2a" opacity="0.81"/>
<circle cx="386.22" cy="837.21" r="1.16" fill="#8a6a4a" opacity="0.28"/>
<circle cx="386.22" cy="837.21" r="0.81" fill="#3a2c22" opacity="0.85"/>
<circle cx="463.05" cy="838.34" r="0.99" fill="#8a6a4a" opacity="0.29"/>
<circle cx="463.05" cy="838.34" r="0.64" fill="#3a2c22" opacity="0.78"/>
<circle cx="408.51" cy="768.08" r="1.07" fill="#8a6a4a" opacity="0.27"/>
<circle cx="408.51" cy="768.08" r="0.72" fill="#332a26" opacity="0.88"/>
<circle cx="454.27" cy="833.35" r="0.95" fill="#8a6a4a" opacity="0.20"/>
<circle cx="454.27" cy="833.35" r="0.60" fill="#332a26" opacity="0.79"/>
<circle cx="456.27" cy="797.91" r="1.34" fill="#8a6a4a" opacity="0.18"/>
<circle cx="456.27" cy="797.91" r="0.99" fill="#3a2c22" opacity="0.91"/>
<circle cx="404.15" cy="791.90" r="0.99" fill="#8a6a4a" opacity="0.24"/>
<circle cx="404.15" cy="791.90" r="0.64" fill="#3a2c22" opacity="0.83"/>
<circle cx="460.76" cy="833.06" r="1.25" fill="#8a6a4a" opacity="0.17"/>
<circle cx="460.76" cy="833.06" r="0.90" fill="#3a2c22" opacity="0.93"/>
<circle cx="394.39" cy="817.34" r="1.34" fill="#8a6a4a" opacity="0.22"/>
<circle cx="394.39" cy="817.34" r="0.99" fill="#332a26" opacity="0.86"/>
<circle cx="446.80" cy="839.39" r="0.90" fill="#8a6a4a" opacity="0.21"/>
<circle cx="446.80" cy="839.39" r="0.55" fill="#3a2c22" opacity="0.83"/>
<circle cx="443.78" cy="798.61" r="0.90" fill="#8a6a4a" opacity="0.26"/>
<circle cx="443.78" cy="798.61" r="0.55" fill="#3a2c22" opacity="0.79"/>
<circle cx="443.95" cy="772.51" r="1.28" fill="#8a6a4a" opacity="0.30"/>
<circle cx="443.95" cy="772.51" r="0.93" fill="#3a2c22" opacity="0.98"/>
<circle cx="394.60" cy="791.76" r="1.25" fill="#8a6a4a" opacity="0.30"/>
<circle cx="394.60" cy="791.76" r="0.90" fill="#3a2c22" opacity="0.92"/>
<circle cx="392.67" cy="807.78" r="0.90" fill="#8a6a4a" opacity="0.28"/>
<circle cx="392.67" cy="807.78" r="0.55" fill="#2a2018" opacity="0.80"/>
<circle cx="404.07" cy="778.84" r="1.31" fill="#8a6a4a" opacity="0.18"/>
<circle cx="404.07" cy="778.84" r="0.96" fill="#3a2c22" opacity="0.95"/>
<circle cx="451.93" cy="773.47" r="0.85" fill="#8a6a4a" opacity="0.20"/>
<circle cx="451.93" cy="773.47" r="0.50" fill="#2a2018" opacity="0.86"/>
<circle cx="427.74" cy="766.31" r="1.03" fill="#8a6a4a" opacity="0.20"/>
<circle cx="427.74" cy="766.31" r="0.68" fill="#332a26" opacity="0.85"/>
<circle cx="473.63" cy="795.35" r="0.89" fill="#8a6a4a" opacity="0.29"/>
<circle cx="473.63" cy="795.35" r="0.54" fill="#332a26" opacity="0.92"/>
<circle cx="437.59" cy="806.23" r="0.99" fill="#8a6a4a" opacity="0.27"/>
<circle cx="437.59" cy="806.23" r="0.64" fill="#332a26" opacity="0.80"/>
<circle cx="470.64" cy="842.73" r="0.91" fill="#8a6a4a" opacity="0.25"/>
<circle cx="470.64" cy="842.73" r="0.56" fill="#332a26" opacity="0.99"/>
<circle cx="378.08" cy="813.79" r="1.27" fill="#8a6a4a" opacity="0.22"/>
<circle cx="378.08" cy="813.79" r="0.92" fill="#3a2c22" opacity="0.97"/>
<circle cx="391.56" cy="795.40" r="1.00" fill="#8a6a4a" opacity="0.21"/>
<circle cx="391.56" cy="795.40" r="0.65" fill="#4a3a2a" opacity="0.88"/>
<circle cx="400.80" cy="769.84" r="0.89" fill="#8a6a4a" opacity="0.16"/>
<circle cx="400.80" cy="769.84" r="0.54" fill="#4a3a2a" opacity="0.83"/>
<circle cx="433.52" cy="828.02" r="1.22" fill="#8a6a4a" opacity="0.16"/>
<circle cx="433.52" cy="828.02" r="0.87" fill="#4a3a2a" opacity="0.76"/>
<circle cx="452.07" cy="793.48" r="1.05" fill="#8a6a4a" opacity="0.23"/>
<circle cx="452.07" cy="793.48" r="0.70" fill="#332a26" opacity="0.97"/>
<circle cx="388.96" cy="800.97" r="1.07" fill="#8a6a4a" opacity="0.17"/>
<circle cx="388.96" cy="800.97" r="0.72" fill="#3a2c22" opacity="0.85"/>
<circle cx="397.51" cy="802.25" r="1.04" fill="#8a6a4a" opacity="0.23"/>
<circle cx="397.51" cy="802.25" r="0.69" fill="#4a3a2a" opacity="0.96"/>
<circle cx="437.73" cy="815.72" r="1.31" fill="#8a6a4a" opacity="0.17"/>
<circle cx="437.73" cy="815.72" r="0.96" fill="#332a26" opacity="0.94"/>
<circle cx="405.45" cy="776.50" r="1.06" fill="#8a6a4a" opacity="0.29"/>
<circle cx="405.45" cy="776.50" r="0.71" fill="#3a2c22" opacity="0.78"/>
<circle cx="422.49" cy="824.46" r="1.25" fill="#8a6a4a" opacity="0.21"/>
<circle cx="422.49" cy="824.46" r="0.90" fill="#2a2018" opacity="0.95"/>
<circle cx="414.60" cy="827.26" r="0.86" fill="#8a6a4a" opacity="0.23"/>
<circle cx="414.60" cy="827.26" r="0.51" fill="#2a2018" opacity="0.95"/>
<circle cx="434.24" cy="812.00" r="0.99" fill="#8a6a4a" opacity="0.30"/>
<circle cx="434.24" cy="812.00" r="0.64" fill="#332a26" opacity="0.81"/>
<circle cx="401.79" cy="830.49" r="1.22" fill="#8a6a4a" opacity="0.16"/>
<circle cx="401.79" cy="830.49" r="0.87" fill="#332a26" opacity="0.83"/>
<circle cx="382.78" cy="773.29" r="1.14" fill="#8a6a4a" opacity="0.18"/>
<circle cx="382.78" cy="773.29" r="0.79" fill="#4a3a2a" opacity="0.92"/>
<circle cx="406.83" cy="809.65" r="1.08" fill="#8a6a4a" opacity="0.20"/>
<circle cx="406.83" cy="809.65" r="0.73" fill="#4a3a2a" opacity="0.91"/>
<circle cx="429.70" cy="771.90" r="1.02" fill="#8a6a4a" opacity="0.21"/>
<circle cx="429.70" cy="771.90" r="0.67" fill="#4a3a2a" opacity="0.88"/>
<circle cx="429.15" cy="821.05" r="1.06" fill="#8a6a4a" opacity="0.28"/>
<circle cx="429.15" cy="821.05" r="0.71" fill="#4a3a2a" opacity="0.90"/>
<circle cx="438.98" cy="783.45" r="1.08" fill="#8a6a4a" opacity="0.29"/>
<circle cx="438.98" cy="783.45" r="0.73" fill="#3a2c22" opacity="0.78"/>
<circle cx="407.97" cy="827.46" r="1.17" fill="#8a6a4a" opacity="0.23"/>
<circle cx="407.97" cy="827.46" r="0.82" fill="#332a26" opacity="0.76"/>
<circle cx="396.59" cy="839.97" r="1.06" fill="#8a6a4a" opacity="0.21"/>
<circle cx="396.59" cy="839.97" r="0.71" fill="#4a3a2a" opacity="0.85"/>
<circle cx="435.99" cy="805.01" r="1.32" fill="#8a6a4a" opacity="0.29"/>
<circle cx="435.99" cy="805.01" r="0.97" fill="#4a3a2a" opacity="1.00"/>
<circle cx="425.17" cy="830.45" r="1.22" fill="#8a6a4a" opacity="0.26"/>
<circle cx="425.17" cy="830.45" r="0.87" fill="#3a2c22" opacity="0.96"/>
<circle cx="426.18" cy="789.06" r="1.25" fill="#8a6a4a" opacity="0.28"/>
<circle cx="426.18" cy="789.06" r="0.90" fill="#3a2c22" opacity="0.79"/>
<circle cx="392.91" cy="809.14" r="1.02" fill="#8a6a4a" opacity="0.17"/>
<circle cx="392.91" cy="809.14" r="0.67" fill="#3a2c22" opacity="0.79"/>
<circle cx="434.05" cy="841.47" r="1.34" fill="#8a6a4a" opacity="0.19"/>
<circle cx="434.05" cy="841.47" r="0.99" fill="#2a2018" opacity="0.82"/>
<circle cx="417.80" cy="765.45" r="1.04" fill="#8a6a4a" opacity="0.15"/>
<circle cx="417.80" cy="765.45" r="0.69" fill="#332a26" opacity="0.95"/>
<circle cx="386.48" cy="838.81" r="0.97" fill="#8a6a4a" opacity="0.24"/>
<circle cx="386.48" cy="838.81" r="0.62" fill="#332a26" opacity="0.93"/>
<circle cx="437.29" cy="804.12" r="0.99" fill="#8a6a4a" opacity="0.30"/>
<circle cx="437.29" cy="804.12" r="0.64" fill="#4a3a2a" opacity="0.89"/>
<circle cx="380.02" cy="830.75" r="1.15" fill="#8a6a4a" opacity="0.24"/>
<circle cx="380.02" cy="830.75" r="0.80" fill="#332a26" opacity="0.89"/>
<circle cx="461.32" cy="776.63" r="0.98" fill="#8a6a4a" opacity="0.21"/>
<circle cx="461.32" cy="776.63" r="0.63" fill="#3a2c22" opacity="0.77"/>
<circle cx="479.11" cy="826.28" r="1.02" fill="#8a6a4a" opacity="0.22"/>
<circle cx="479.11" cy="826.28" r="0.67" fill="#3a2c22" opacity="0.95"/>
<circle cx="415.33" cy="772.53" r="1.20" fill="#8a6a4a" opacity="0.29"/>
<circle cx="415.33" cy="772.53" r="0.85" fill="#4a3a2a" opacity="0.92"/>
<circle cx="474.28" cy="825.64" r="1.08" fill="#8a6a4a" opacity="0.26"/>
<circle cx="474.28" cy="825.64" r="0.73" fill="#4a3a2a" opacity="0.98"/>
<circle cx="448.39" cy="778.28" r="1.22" fill="#8a6a4a" opacity="0.25"/>
<circle cx="448.39" cy="778.28" r="0.87" fill="#3a2c22" opacity="0.80"/>
<circle cx="398.47" cy="816.96" r="1.02" fill="#8a6a4a" opacity="0.26"/>
<circle cx="398.47" cy="816.96" r="0.67" fill="#332a26" opacity="0.95"/>
<circle cx="394.86" cy="770.47" r="0.86" fill="#8a6a4a" opacity="0.22"/>
<circle cx="394.86" cy="770.47" r="0.51" fill="#332a26" opacity="0.88"/>
<circle cx="385.67" cy="782.73" r="0.88" fill="#8a6a4a" opacity="0.21"/>
<circle cx="385.67" cy="782.73" r="0.53" fill="#4a3a2a" opacity="0.83"/>
<circle cx="427.86" cy="795.55" r="1.10" fill="#8a6a4a" opacity="0.20"/>
<circle cx="427.86" cy="795.55" r="0.75" fill="#332a26" opacity="0.80"/>
<circle cx="411.64" cy="765.45" r="0.88" fill="#8a6a4a" opacity="0.21"/>
<circle cx="411.64" cy="765.45" r="0.53" fill="#332a26" opacity="0.92"/>
<circle cx="477.27" cy="830.28" r="1.14" fill="#8a6a4a" opacity="0.15"/>
<circle cx="477.27" cy="830.28" r="0.79" fill="#332a26" opacity="0.91"/>
<circle cx="419.32" cy="839.86" r="1.11" fill="#8a6a4a" opacity="0.17"/>
<circle cx="419.32" cy="839.86" r="0.76" fill="#2a2018" opacity="0.85"/>
<circle cx="387.34" cy="822.00" r="1.15" fill="#8a6a4a" opacity="0.17"/>
<circle cx="387.34" cy="822.00" r="0.80" fill="#332a26" opacity="0.97"/>
<circle cx="479.41" cy="824.12" r="1.29" fill="#8a6a4a" opacity="0.25"/>
<circle cx="479.41" cy="824.12" r="0.94" fill="#4a3a2a" opacity="0.92"/>
<circle cx="413.28" cy="801.33" r="1.16" fill="#8a6a4a" opacity="0.24"/>
<circle cx="413.28" cy="801.33" r="0.81" fill="#2a2018" opacity="0.83"/>
<circle cx="433.23" cy="837.47" r="1.31" fill="#8a6a4a" opacity="0.23"/>
<circle cx="433.23" cy="837.47" r="0.96" fill="#2a2018" opacity="0.86"/>
<circle cx="468.59" cy="814.37" r="0.92" fill="#8a6a4a" opacity="0.26"/>
<circle cx="468.59" cy="814.37" r="0.57" fill="#4a3a2a" opacity="0.91"/>
<circle cx="382.91" cy="826.62" r="1.17" fill="#8a6a4a" opacity="0.27"/>
<circle cx="382.91" cy="826.62" r="0.82" fill="#3a2c22" opacity="0.93"/>
<circle cx="463.86" cy="823.11" r="1.34" fill="#8a6a4a" opacity="0.27"/>
<circle cx="463.86" cy="823.11" r="0.99" fill="#3a2c22" opacity="0.99"/>
<circle cx="457.81" cy="839.31" r="1.11" fill="#8a6a4a" opacity="0.21"/>
<circle cx="457.81" cy="839.31" r="0.76" fill="#4a3a2a" opacity="0.79"/>
<circle cx="406.77" cy="793.64" r="1.25" fill="#8a6a4a" opacity="0.16"/>
<circle cx="406.77" cy="793.64" r="0.90" fill="#2a2018" opacity="0.79"/>
<circle cx="464.23" cy="795.72" r="1.31" fill="#8a6a4a" opacity="0.16"/>
<circle cx="464.23" cy="795.72" r="0.96" fill="#4a3a2a" opacity="0.77"/>
<circle cx="416.23" cy="837.65" r="0.87" fill="#8a6a4a" opacity="0.28"/>
<circle cx="416.23" cy="837.65" r="0.52" fill="#332a26" opacity="0.88"/>
<circle cx="391.60" cy="828.99" r="0.96" fill="#8a6a4a" opacity="0.29"/>
<circle cx="391.60" cy="828.99" r="0.61" fill="#4a3a2a" opacity="0.81"/>
<circle cx="376.80" cy="832.67" r="0.90" fill="#8a6a4a" opacity="0.26"/>
<circle cx="376.80" cy="832.67" r="0.55" fill="#332a26" opacity="0.91"/>
<circle cx="463.36" cy="841.91" r="1.27" fill="#8a6a4a" opacity="0.29"/>
<circle cx="463.36" cy="841.91" r="0.92" fill="#4a3a2a" opacity="0.93"/>
<circle cx="423.34" cy="827.84" r="0.94" fill="#8a6a4a" opacity="0.24"/>
<circle cx="423.34" cy="827.84" r="0.59" fill="#4a3a2a" opacity="0.97"/>
<circle cx="401.92" cy="819.30" r="0.91" fill="#8a6a4a" opacity="0.27"/>
<circle cx="401.92" cy="819.30" r="0.56" fill="#2a2018" opacity="0.83"/>
<circle cx="425.28" cy="828.59" r="0.90" fill="#8a6a4a" opacity="0.20"/>
<circle cx="425.28" cy="828.59" r="0.55" fill="#3a2c22" opacity="0.79"/>
<circle cx="384.34" cy="823.68" r="1.18" fill="#8a6a4a" opacity="0.16"/>
<circle cx="384.34" cy="823.68" r="0.83" fill="#3a2c22" opacity="0.86"/>
<circle cx="382.19" cy="838.65" r="0.91" fill="#8a6a4a" opacity="0.21"/>
<circle cx="382.19" cy="838.65" r="0.56" fill="#3a2c22" opacity="0.81"/>
<circle cx="458.80" cy="820.64" r="1.12" fill="#8a6a4a" opacity="0.25"/>
<circle cx="458.80" cy="820.64" r="0.77" fill="#3a2c22" opacity="0.97"/>
<circle cx="383.68" cy="797.40" r="0.91" fill="#8a6a4a" opacity="0.22"/>
<circle cx="383.68" cy="797.40" r="0.56" fill="#332a26" opacity="0.82"/>
<circle cx="466.64" cy="814.69" r="1.04" fill="#8a6a4a" opacity="0.29"/>
<circle cx="466.64" cy="814.69" r="0.69" fill="#2a2018" opacity="0.86"/>
<circle cx="435.71" cy="832.29" r="0.98" fill="#8a6a4a" opacity="0.17"/>
<circle cx="435.71" cy="832.29" r="0.63" fill="#3a2c22" opacity="0.88"/>
<circle cx="463.71" cy="840.29" r="1.17" fill="#8a6a4a" opacity="0.23"/>
<circle cx="463.71" cy="840.29" r="0.82" fill="#2a2018" opacity="0.98"/>
</g>
<rect x="376.20" y="841.20" width="24.50" height="2.30" fill="#1e1e1e"/>
</g>
<text x="375.98" y="776.20" font-size="10.40" stroke="#111" stroke-width="0.28" textLength="67.13" lengthAdjust="spacingAndGlyphs">Dato-DXd_7d</text>
</svg></body></html>
